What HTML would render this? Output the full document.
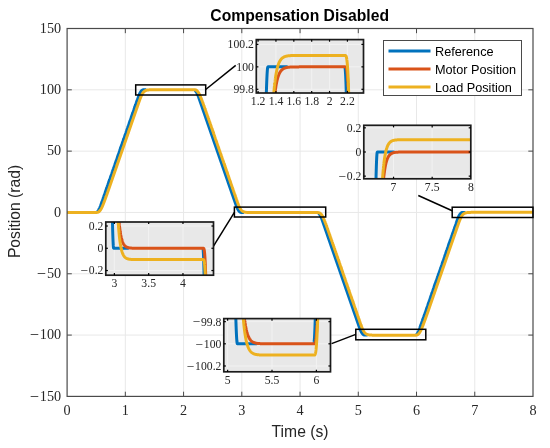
<!DOCTYPE html>
<html><head><meta charset="utf-8"><title>Compensation Disabled</title>
<style>html,body{margin:0;padding:0;background:#fff}svg{display:block}</style></head>
<body>
<svg width="550" height="448" viewBox="0 0 550 448">
<rect width="550" height="448" fill="#fff"/>
<line x1="125.34" y1="28.5" x2="125.34" y2="396.4" stroke="#e8e8e8" stroke-width="1"/>
<line x1="183.57" y1="28.5" x2="183.57" y2="396.4" stroke="#e8e8e8" stroke-width="1"/>
<line x1="241.81" y1="28.5" x2="241.81" y2="396.4" stroke="#e8e8e8" stroke-width="1"/>
<line x1="300.05" y1="28.5" x2="300.05" y2="396.4" stroke="#e8e8e8" stroke-width="1"/>
<line x1="358.29" y1="28.5" x2="358.29" y2="396.4" stroke="#e8e8e8" stroke-width="1"/>
<line x1="416.52" y1="28.5" x2="416.52" y2="396.4" stroke="#e8e8e8" stroke-width="1"/>
<line x1="474.76" y1="28.5" x2="474.76" y2="396.4" stroke="#e8e8e8" stroke-width="1"/>
<line x1="67.1" y1="335.08" x2="533.0" y2="335.08" stroke="#e8e8e8" stroke-width="1"/>
<line x1="67.1" y1="273.77" x2="533.0" y2="273.77" stroke="#e8e8e8" stroke-width="1"/>
<line x1="67.1" y1="212.45" x2="533.0" y2="212.45" stroke="#e8e8e8" stroke-width="1"/>
<line x1="67.1" y1="151.13" x2="533.0" y2="151.13" stroke="#e8e8e8" stroke-width="1"/>
<line x1="67.1" y1="89.82" x2="533.0" y2="89.82" stroke="#e8e8e8" stroke-width="1"/>
<line x1="125.34" y1="396.4" x2="125.34" y2="391.7" stroke="#4a4a4a" stroke-width="1"/>
<line x1="125.34" y1="28.5" x2="125.34" y2="33.2" stroke="#4a4a4a" stroke-width="1"/>
<line x1="183.57" y1="396.4" x2="183.57" y2="391.7" stroke="#4a4a4a" stroke-width="1"/>
<line x1="183.57" y1="28.5" x2="183.57" y2="33.2" stroke="#4a4a4a" stroke-width="1"/>
<line x1="241.81" y1="396.4" x2="241.81" y2="391.7" stroke="#4a4a4a" stroke-width="1"/>
<line x1="241.81" y1="28.5" x2="241.81" y2="33.2" stroke="#4a4a4a" stroke-width="1"/>
<line x1="300.05" y1="396.4" x2="300.05" y2="391.7" stroke="#4a4a4a" stroke-width="1"/>
<line x1="300.05" y1="28.5" x2="300.05" y2="33.2" stroke="#4a4a4a" stroke-width="1"/>
<line x1="358.29" y1="396.4" x2="358.29" y2="391.7" stroke="#4a4a4a" stroke-width="1"/>
<line x1="358.29" y1="28.5" x2="358.29" y2="33.2" stroke="#4a4a4a" stroke-width="1"/>
<line x1="416.52" y1="396.4" x2="416.52" y2="391.7" stroke="#4a4a4a" stroke-width="1"/>
<line x1="416.52" y1="28.5" x2="416.52" y2="33.2" stroke="#4a4a4a" stroke-width="1"/>
<line x1="474.76" y1="396.4" x2="474.76" y2="391.7" stroke="#4a4a4a" stroke-width="1"/>
<line x1="474.76" y1="28.5" x2="474.76" y2="33.2" stroke="#4a4a4a" stroke-width="1"/>
<line x1="67.1" y1="335.08" x2="71.8" y2="335.08" stroke="#4a4a4a" stroke-width="1"/>
<line x1="533.0" y1="335.08" x2="528.3" y2="335.08" stroke="#4a4a4a" stroke-width="1"/>
<line x1="67.1" y1="273.77" x2="71.8" y2="273.77" stroke="#4a4a4a" stroke-width="1"/>
<line x1="533.0" y1="273.77" x2="528.3" y2="273.77" stroke="#4a4a4a" stroke-width="1"/>
<line x1="67.1" y1="212.45" x2="71.8" y2="212.45" stroke="#4a4a4a" stroke-width="1"/>
<line x1="533.0" y1="212.45" x2="528.3" y2="212.45" stroke="#4a4a4a" stroke-width="1"/>
<line x1="67.1" y1="151.13" x2="71.8" y2="151.13" stroke="#4a4a4a" stroke-width="1"/>
<line x1="533.0" y1="151.13" x2="528.3" y2="151.13" stroke="#4a4a4a" stroke-width="1"/>
<line x1="67.1" y1="89.82" x2="71.8" y2="89.82" stroke="#4a4a4a" stroke-width="1"/>
<line x1="533.0" y1="89.82" x2="528.3" y2="89.82" stroke="#4a4a4a" stroke-width="1"/>
<path d="M97.03 211.91 L97.35 211.64 L97.67 211.31 L97.94 210.99 L98.17 210.68 L98.40 210.34 L98.61 210.02 L98.81 209.68 L98.99 209.36 L99.16 209.03 L99.33 208.69 L99.48 208.38 L99.63 208.07 L99.77 207.75 L99.92 207.41 L100.06 207.06 L100.21 206.70 L100.35 206.33 L100.47 206.02 L100.59 205.71 L100.70 205.39 L100.82 205.06 L100.94 204.72 L101.05 204.39 L101.17 204.05 L101.29 203.71 L101.40 203.38 L101.52 203.04 L101.63 202.71 L101.75 202.37 L101.87 202.03 L101.98 201.70 L102.10 201.36 L102.22 201.03 L102.33 200.69 L102.45 200.35 L102.57 200.02 L102.68 199.68 L102.80 199.35 L102.92 199.01 L103.03 198.67 L103.15 198.34 L103.27 198.00 L103.38 197.67 L103.50 197.33 L103.61 196.99 L103.73 196.66 L103.85 196.32 L103.96 195.99 L104.08 195.65 L104.20 195.31 L104.31 194.98 L104.43 194.64 L104.55 194.31 L104.66 193.97 L104.78 193.64 L104.90 193.30 L105.01 192.96 L105.13 192.63 L105.25 192.29 L105.36 191.96 L105.48 191.62 L105.59 191.28 L105.71 190.95 L105.83 190.61 L105.94 190.28 L106.06 189.94 L106.18 189.60 L106.29 189.27 L106.41 188.93 L106.53 188.60 L106.64 188.26 L106.76 187.92 L106.88 187.59 L106.99 187.25 L107.11 186.92 L107.23 186.58 L107.34 186.24 L107.46 185.91 L107.58 185.57 L107.69 185.24 L107.81 184.90 L107.92 184.56 L108.04 184.23 L108.16 183.89 L108.27 183.56 L108.39 183.22 L108.51 182.88 L108.62 182.55 L108.74 182.21 L108.86 181.88 L108.97 181.54 L109.09 181.20 L109.21 180.87 L109.32 180.53 L109.44 180.20 L109.56 179.86 L109.67 179.52 L109.79 179.19 L109.90 178.85 L110.02 178.52 L110.14 178.18 L110.25 177.84 L110.37 177.51 L110.49 177.17 L110.60 176.84 L110.72 176.50 L110.84 176.16 L110.95 175.83 L111.07 175.49 L111.19 175.16 L111.30 174.82 L111.42 174.48 L111.54 174.15 L111.65 173.81 L111.77 173.48 L111.88 173.14 L112.00 172.80 L112.12 172.47 L112.23 172.13 L112.35 171.80 L112.47 171.46 L112.58 171.12 L112.70 170.79 L112.82 170.45 L112.93 170.12 L113.05 169.78 L113.17 169.44 L113.28 169.11 L113.40 168.77 L113.52 168.44 L113.63 168.10 L113.75 167.76 L113.86 167.43 L113.98 167.09 L114.10 166.76 L114.21 166.42 L114.33 166.08 L114.45 165.75 L114.56 165.41 L114.68 165.08 L114.80 164.74 L114.91 164.40 L115.03 164.07 L115.15 163.73 L115.26 163.40 L115.38 163.06 L115.50 162.72 L115.61 162.39 L115.73 162.05 L115.84 161.72 L115.96 161.38 L116.08 161.04 L116.19 160.71 L116.31 160.37 L116.43 160.04 L116.54 159.70 L116.66 159.36 L116.78 159.03 L116.89 158.69 L117.01 158.36 L117.13 158.02 L117.24 157.68 L117.36 157.35 L117.48 157.01 L117.59 156.68 L117.71 156.34 L117.82 156.01 L117.94 155.67 L118.06 155.33 L118.17 155.00 L118.29 154.66 L118.41 154.33 L118.52 153.99 L118.64 153.65 L118.76 153.32 L118.87 152.98 L118.99 152.65 L119.11 152.31 L119.22 151.97 L119.34 151.64 L119.46 151.30 L119.57 150.97 L119.69 150.63 L119.80 150.29 L119.92 149.96 L120.04 149.62 L120.15 149.29 L120.27 148.95 L120.39 148.61 L120.50 148.28 L120.62 147.94 L120.74 147.61 L120.85 147.27 L120.97 146.93 L121.09 146.60 L121.20 146.26 L121.32 145.93 L121.44 145.59 L121.55 145.25 L121.67 144.92 L121.79 144.58 L121.90 144.25 L122.02 143.91 L122.13 143.57 L122.25 143.24 L122.37 142.90 L122.48 142.57 L122.60 142.23 L122.72 141.89 L122.83 141.56 L122.95 141.22 L123.07 140.89 L123.18 140.55 L123.30 140.21 L123.42 139.88 L123.53 139.54 L123.65 139.21 L123.77 138.87 L123.88 138.53 L124.00 138.20 L124.11 137.86 L124.23 137.53 L124.35 137.19 L124.46 136.85 L124.58 136.52 L124.70 136.18 L124.81 135.85 L124.93 135.51 L125.05 135.17 L125.16 134.84 L125.28 134.50 L125.40 134.17 L125.51 133.83 L125.63 133.49 L125.75 133.16 L125.86 132.82 L125.98 132.49 L126.09 132.15 L126.21 131.81 L126.33 131.48 L126.44 131.14 L126.56 130.81 L126.68 130.47 L126.79 130.13 L126.91 129.80 L127.03 129.46 L127.14 129.13 L127.26 128.79 L127.38 128.45 L127.49 128.12 L127.61 127.78 L127.73 127.45 L127.84 127.11 L127.96 126.77 L128.07 126.44 L128.19 126.10 L128.31 125.77 L128.42 125.43 L128.54 125.09 L128.66 124.76 L128.77 124.42 L128.89 124.09 L129.01 123.75 L129.12 123.41 L129.24 123.08 L129.36 122.74 L129.47 122.41 L129.59 122.07 L129.71 121.73 L129.82 121.40 L129.94 121.06 L130.05 120.73 L130.17 120.39 L130.29 120.06 L130.40 119.72 L130.52 119.38 L130.64 119.05 L130.75 118.71 L130.87 118.38 L130.99 118.04 L131.10 117.70 L131.22 117.37 L131.34 117.03 L131.45 116.70 L131.57 116.36 L131.69 116.02 L131.80 115.69 L131.92 115.35 L132.03 115.02 L132.15 114.68 L132.27 114.34 L132.38 114.01 L132.50 113.67 L132.62 113.34 L132.73 113.00 L132.85 112.66 L132.97 112.33 L133.08 111.99 L133.20 111.66 L133.32 111.32 L133.43 110.98 L133.55 110.65 L133.67 110.31 L133.78 109.98 L133.90 109.64 L134.01 109.30 L134.13 108.97 L134.25 108.63 L134.36 108.30 L134.48 107.96 L134.60 107.62 L134.71 107.29 L134.83 106.95 L134.95 106.62 L135.06 106.28 L135.18 105.94 L135.30 105.61 L135.41 105.27 L135.53 104.94 L135.65 104.60 L135.76 104.26 L135.88 103.93 L135.99 103.59 L136.11 103.26 L136.23 102.92 L136.34 102.58 L136.46 102.25 L136.58 101.91 L136.69 101.58 L136.81 101.24 L136.93 100.90 L137.04 100.57 L137.16 100.23 L137.28 99.90 L137.39 99.56 L137.51 99.22 L137.63 98.89 L137.74 98.55 L137.86 98.22 L137.98 97.88 L138.09 97.54 L138.21 97.21 L138.32 96.88 L138.44 96.56 L138.56 96.25 L138.67 95.94 L138.82 95.57 L138.97 95.21 L139.11 94.86 L139.26 94.52 L139.40 94.20 L139.55 93.88 L139.69 93.58 L139.87 93.23 L140.04 92.90 L140.22 92.59 L140.42 92.24 L140.62 91.92 L140.86 91.58 L141.09 91.27 L141.35 90.96 L141.64 90.66 L141.96 90.38 L142.28 90.15 L142.60 89.99 L142.93 89.88 L143.25 89.82 L143.57 89.82 L143.89 89.82 L144.21 89.82 L144.53 89.82 L144.85 89.82 L145.17 89.82 L145.49 89.82 L145.81 89.82 L146.13 89.82 L146.30 89.82 M194.87 90.35 L195.19 90.63 L195.51 90.96 L195.78 91.27 L196.01 91.58 L196.24 91.92 L196.45 92.24 L196.65 92.59 L196.82 92.90 L197.00 93.23 L197.17 93.58 L197.32 93.88 L197.46 94.20 L197.61 94.52 L197.76 94.86 L197.90 95.21 L198.05 95.57 L198.19 95.94 L198.31 96.25 L198.43 96.56 L198.54 96.88 L198.66 97.21 L198.77 97.54 L198.89 97.88 L199.01 98.22 L199.12 98.55 L199.24 98.89 L199.36 99.22 L199.47 99.56 L199.59 99.90 L199.71 100.23 L199.82 100.57 L199.94 100.90 L200.06 101.24 L200.17 101.58 L200.29 101.91 L200.41 102.25 L200.52 102.58 L200.64 102.92 L200.76 103.26 L200.87 103.59 L200.99 103.93 L201.10 104.26 L201.22 104.60 L201.34 104.94 L201.45 105.27 L201.57 105.61 L201.69 105.94 L201.80 106.28 L201.92 106.62 L202.04 106.95 L202.15 107.29 L202.27 107.62 L202.39 107.96 L202.50 108.30 L202.62 108.63 L202.74 108.97 L202.85 109.30 L202.97 109.64 L203.08 109.98 L203.20 110.31 L203.32 110.65 L203.43 110.98 L203.55 111.32 L203.67 111.66 L203.78 111.99 L203.90 112.33 L204.02 112.66 L204.13 113.00 L204.25 113.34 L204.37 113.67 L204.48 114.01 L204.60 114.34 L204.72 114.68 L204.83 115.02 L204.95 115.35 L205.06 115.69 L205.18 116.02 L205.30 116.36 L205.41 116.70 L205.53 117.03 L205.65 117.37 L205.76 117.70 L205.88 118.04 L206.00 118.38 L206.11 118.71 L206.23 119.05 L206.35 119.38 L206.46 119.72 L206.58 120.06 L206.70 120.39 L206.81 120.73 L206.93 121.06 L207.04 121.40 L207.16 121.73 L207.28 122.07 L207.39 122.41 L207.51 122.74 L207.63 123.08 L207.74 123.41 L207.86 123.75 L207.98 124.09 L208.09 124.42 L208.21 124.76 L208.33 125.09 L208.44 125.43 L208.56 125.77 L208.68 126.10 L208.79 126.44 L208.91 126.77 L209.02 127.11 L209.14 127.45 L209.26 127.78 L209.37 128.12 L209.49 128.45 L209.61 128.79 L209.72 129.13 L209.84 129.46 L209.96 129.80 L210.07 130.13 L210.19 130.47 L210.31 130.81 L210.42 131.14 L210.54 131.48 L210.66 131.81 L210.77 132.15 L210.89 132.49 L211.00 132.82 L211.12 133.16 L211.24 133.49 L211.35 133.83 L211.47 134.17 L211.59 134.50 L211.70 134.84 L211.82 135.17 L211.94 135.51 L212.05 135.85 L212.17 136.18 L212.29 136.52 L212.40 136.85 L212.52 137.19 L212.64 137.53 L212.75 137.86 L212.87 138.20 L212.98 138.53 L213.10 138.87 L213.22 139.21 L213.33 139.54 L213.45 139.88 L213.57 140.21 L213.68 140.55 L213.80 140.89 L213.92 141.22 L214.03 141.56 L214.15 141.89 L214.27 142.23 L214.38 142.57 L214.50 142.90 L214.62 143.24 L214.73 143.57 L214.85 143.91 L214.97 144.25 L215.08 144.58 L215.20 144.92 L215.31 145.25 L215.43 145.59 L215.55 145.93 L215.66 146.26 L215.78 146.60 L215.90 146.93 L216.01 147.27 L216.13 147.61 L216.25 147.94 L216.36 148.28 L216.48 148.61 L216.60 148.95 L216.71 149.29 L216.83 149.62 L216.95 149.96 L217.06 150.29 L217.18 150.63 L217.29 150.97 L217.41 151.30 L217.53 151.64 L217.64 151.97 L217.76 152.31 L217.88 152.65 L217.99 152.98 L218.11 153.32 L218.23 153.65 L218.34 153.99 L218.46 154.33 L218.58 154.66 L218.69 155.00 L218.81 155.33 L218.93 155.67 L219.04 156.01 L219.16 156.34 L219.27 156.68 L219.39 157.01 L219.51 157.35 L219.62 157.68 L219.74 158.02 L219.86 158.36 L219.97 158.69 L220.09 159.03 L220.21 159.36 L220.32 159.70 L220.44 160.04 L220.56 160.37 L220.67 160.71 L220.79 161.04 L220.91 161.38 L221.02 161.72 L221.14 162.05 L221.25 162.39 L221.37 162.72 L221.49 163.06 L221.60 163.40 L221.72 163.73 L221.84 164.07 L221.95 164.40 L222.07 164.74 L222.19 165.08 L222.30 165.41 L222.42 165.75 L222.54 166.08 L222.65 166.42 L222.77 166.76 L222.89 167.09 L223.00 167.43 L223.12 167.76 L223.23 168.10 L223.35 168.44 L223.47 168.77 L223.58 169.11 L223.70 169.44 L223.82 169.78 L223.93 170.12 L224.05 170.45 L224.17 170.79 L224.28 171.12 L224.40 171.46 L224.52 171.80 L224.63 172.13 L224.75 172.47 L224.87 172.80 L224.98 173.14 L225.10 173.48 L225.21 173.81 L225.33 174.15 L225.45 174.48 L225.56 174.82 L225.68 175.16 L225.80 175.49 L225.91 175.83 L226.03 176.16 L226.15 176.50 L226.26 176.84 L226.38 177.17 L226.50 177.51 L226.61 177.84 L226.73 178.18 L226.85 178.52 L226.96 178.85 L227.08 179.19 L227.19 179.52 L227.31 179.86 L227.43 180.20 L227.54 180.53 L227.66 180.87 L227.78 181.20 L227.89 181.54 L228.01 181.88 L228.13 182.21 L228.24 182.55 L228.36 182.88 L228.48 183.22 L228.59 183.56 L228.71 183.89 L228.83 184.23 L228.94 184.56 L229.06 184.90 L229.17 185.24 L229.29 185.57 L229.41 185.91 L229.52 186.24 L229.64 186.58 L229.76 186.92 L229.87 187.25 L229.99 187.59 L230.11 187.92 L230.22 188.26 L230.34 188.60 L230.46 188.93 L230.57 189.27 L230.69 189.60 L230.81 189.94 L230.92 190.28 L231.04 190.61 L231.16 190.95 L231.27 191.28 L231.39 191.62 L231.50 191.96 L231.62 192.29 L231.74 192.63 L231.85 192.96 L231.97 193.30 L232.09 193.64 L232.20 193.97 L232.32 194.31 L232.44 194.64 L232.55 194.98 L232.67 195.31 L232.79 195.65 L232.90 195.99 L233.02 196.32 L233.14 196.66 L233.25 196.99 L233.37 197.33 L233.48 197.67 L233.60 198.00 L233.72 198.34 L233.83 198.67 L233.95 199.01 L234.07 199.35 L234.18 199.68 L234.30 200.02 L234.42 200.35 L234.53 200.69 L234.65 201.03 L234.77 201.36 L234.88 201.70 L235.00 202.03 L235.12 202.37 L235.23 202.71 L235.35 203.04 L235.46 203.38 L235.58 203.71 L235.70 204.05 L235.81 204.39 L235.93 204.72 L236.05 205.06 L236.16 205.39 L236.28 205.71 L236.40 206.02 L236.51 206.33 L236.66 206.70 L236.80 207.06 L236.95 207.41 L237.10 207.75 L237.24 208.07 L237.39 208.38 L237.53 208.69 L237.71 209.03 L237.88 209.36 L238.06 209.68 L238.26 210.02 L238.46 210.34 L238.70 210.68 L238.93 210.99 L239.19 211.31 L239.48 211.61 L239.80 211.89 L240.12 212.11 L240.44 212.28 L240.76 212.39 L241.08 212.44 L241.40 212.45 L241.73 212.45 L242.05 212.45 L242.37 212.45 L242.69 212.45 L243.01 212.45 L243.33 212.45 L243.65 212.45 L243.97 212.45 L244.14 212.45 M318.51 213.13 L318.83 213.44 L319.12 213.76 L319.38 214.10 L319.62 214.42 L319.82 214.74 L320.03 215.07 L320.20 215.38 L320.37 215.70 L320.55 216.04 L320.72 216.39 L320.87 216.70 L321.02 217.02 L321.16 217.36 L321.31 217.70 L321.45 218.06 L321.60 218.42 L321.71 218.73 L321.83 219.04 L321.95 219.35 L322.06 219.68 L322.18 220.01 L322.30 220.35 L322.41 220.68 L322.53 221.02 L322.65 221.35 L322.76 221.69 L322.88 222.03 L323.00 222.36 L323.11 222.70 L323.23 223.03 L323.35 223.37 L323.46 223.71 L323.58 224.04 L323.69 224.38 L323.81 224.71 L323.93 225.05 L324.04 225.39 L324.16 225.72 L324.28 226.06 L324.39 226.39 L324.51 226.73 L324.63 227.07 L324.74 227.40 L324.86 227.74 L324.98 228.07 L325.09 228.41 L325.21 228.75 L325.33 229.08 L325.44 229.42 L325.56 229.75 L325.67 230.09 L325.79 230.43 L325.91 230.76 L326.02 231.10 L326.14 231.43 L326.26 231.77 L326.37 232.10 L326.49 232.44 L326.61 232.78 L326.72 233.11 L326.84 233.45 L326.96 233.78 L327.07 234.12 L327.19 234.46 L327.31 234.79 L327.42 235.13 L327.54 235.46 L327.65 235.80 L327.77 236.14 L327.89 236.47 L328.00 236.81 L328.12 237.14 L328.24 237.48 L328.35 237.82 L328.47 238.15 L328.59 238.49 L328.70 238.82 L328.82 239.16 L328.94 239.50 L329.05 239.83 L329.17 240.17 L329.29 240.50 L329.40 240.84 L329.52 241.18 L329.63 241.51 L329.75 241.85 L329.87 242.18 L329.98 242.52 L330.10 242.86 L330.22 243.19 L330.33 243.53 L330.45 243.86 L330.57 244.20 L330.68 244.54 L330.80 244.87 L330.92 245.21 L331.03 245.54 L331.15 245.88 L331.27 246.22 L331.38 246.55 L331.50 246.89 L331.61 247.22 L331.73 247.56 L331.85 247.90 L331.96 248.23 L332.08 248.57 L332.20 248.90 L332.31 249.24 L332.43 249.58 L332.55 249.91 L332.66 250.25 L332.78 250.58 L332.90 250.92 L333.01 251.26 L333.13 251.59 L333.25 251.93 L333.36 252.26 L333.48 252.60 L333.59 252.94 L333.71 253.27 L333.83 253.61 L333.94 253.94 L334.06 254.28 L334.18 254.62 L334.29 254.95 L334.41 255.29 L334.53 255.62 L334.64 255.96 L334.76 256.30 L334.88 256.63 L334.99 256.97 L335.11 257.30 L335.23 257.64 L335.34 257.98 L335.46 258.31 L335.57 258.65 L335.69 258.98 L335.81 259.32 L335.92 259.66 L336.04 259.99 L336.16 260.33 L336.27 260.66 L336.39 261.00 L336.51 261.34 L336.62 261.67 L336.74 262.01 L336.86 262.34 L336.97 262.68 L337.09 263.02 L337.21 263.35 L337.32 263.69 L337.44 264.02 L337.55 264.36 L337.67 264.70 L337.79 265.03 L337.90 265.37 L338.02 265.70 L338.14 266.04 L338.25 266.38 L338.37 266.71 L338.49 267.05 L338.60 267.38 L338.72 267.72 L338.84 268.05 L338.95 268.39 L339.07 268.73 L339.19 269.06 L339.30 269.40 L339.42 269.73 L339.54 270.07 L339.65 270.41 L339.77 270.74 L339.88 271.08 L340.00 271.41 L340.12 271.75 L340.23 272.09 L340.35 272.42 L340.47 272.76 L340.58 273.09 L340.70 273.43 L340.82 273.77 L340.93 274.10 L341.05 274.44 L341.17 274.77 L341.28 275.11 L341.40 275.45 L341.52 275.78 L341.63 276.12 L341.75 276.45 L341.86 276.79 L341.98 277.13 L342.10 277.46 L342.21 277.80 L342.33 278.13 L342.45 278.47 L342.56 278.81 L342.68 279.14 L342.80 279.48 L342.91 279.81 L343.03 280.15 L343.15 280.49 L343.26 280.82 L343.38 281.16 L343.50 281.49 L343.61 281.83 L343.73 282.17 L343.84 282.50 L343.96 282.84 L344.08 283.17 L344.19 283.51 L344.31 283.85 L344.43 284.18 L344.54 284.52 L344.66 284.85 L344.78 285.19 L344.89 285.53 L345.01 285.86 L345.13 286.20 L345.24 286.53 L345.36 286.87 L345.48 287.21 L345.59 287.54 L345.71 287.88 L345.82 288.21 L345.94 288.55 L346.06 288.89 L346.17 289.22 L346.29 289.56 L346.41 289.89 L346.52 290.23 L346.64 290.57 L346.76 290.90 L346.87 291.24 L346.99 291.57 L347.11 291.91 L347.22 292.25 L347.34 292.58 L347.46 292.92 L347.57 293.25 L347.69 293.59 L347.80 293.93 L347.92 294.26 L348.04 294.60 L348.15 294.93 L348.27 295.27 L348.39 295.61 L348.50 295.94 L348.62 296.28 L348.74 296.61 L348.85 296.95 L348.97 297.29 L349.09 297.62 L349.20 297.96 L349.32 298.29 L349.44 298.63 L349.55 298.97 L349.67 299.30 L349.78 299.64 L349.90 299.97 L350.02 300.31 L350.13 300.65 L350.25 300.98 L350.37 301.32 L350.48 301.65 L350.60 301.99 L350.72 302.33 L350.83 302.66 L350.95 303.00 L351.07 303.33 L351.18 303.67 L351.30 304.01 L351.42 304.34 L351.53 304.68 L351.65 305.01 L351.76 305.35 L351.88 305.68 L352.00 306.02 L352.11 306.36 L352.23 306.69 L352.35 307.03 L352.46 307.36 L352.58 307.70 L352.70 308.04 L352.81 308.37 L352.93 308.71 L353.05 309.04 L353.16 309.38 L353.28 309.72 L353.40 310.05 L353.51 310.39 L353.63 310.72 L353.74 311.06 L353.86 311.40 L353.98 311.73 L354.09 312.07 L354.21 312.40 L354.33 312.74 L354.44 313.08 L354.56 313.41 L354.68 313.75 L354.79 314.08 L354.91 314.42 L355.03 314.76 L355.14 315.09 L355.26 315.43 L355.38 315.76 L355.49 316.10 L355.61 316.44 L355.73 316.77 L355.84 317.11 L355.96 317.44 L356.07 317.78 L356.19 318.12 L356.31 318.45 L356.42 318.79 L356.54 319.12 L356.66 319.46 L356.77 319.80 L356.89 320.13 L357.01 320.47 L357.12 320.80 L357.24 321.14 L357.36 321.48 L357.47 321.81 L357.59 322.15 L357.71 322.48 L357.82 322.82 L357.94 323.16 L358.05 323.49 L358.17 323.83 L358.29 324.16 L358.40 324.50 L358.52 324.84 L358.64 325.17 L358.75 325.51 L358.87 325.84 L358.99 326.18 L359.10 326.52 L359.22 326.85 L359.34 327.19 L359.45 327.52 L359.57 327.86 L359.69 328.18 L359.80 328.50 L359.92 328.81 L360.03 329.11 L360.18 329.48 L360.33 329.83 L360.47 330.18 L360.62 330.51 L360.76 330.83 L360.91 331.14 L361.08 331.50 L361.26 331.83 L361.43 332.16 L361.61 332.46 L361.81 332.80 L362.01 333.11 L362.25 333.44 L362.51 333.77 L362.80 334.10 L363.12 334.40 L363.44 334.65 L363.76 334.84 L364.08 334.98 L364.40 335.06 L364.72 335.08 L365.04 335.08 L365.36 335.08 L365.68 335.08 L366.00 335.08 L366.32 335.08 L366.64 335.08 L366.96 335.08 L367.29 335.08 L367.61 335.08 L367.61 335.08 M416.18 334.55 L416.50 334.27 L416.82 333.94 L417.08 333.63 L417.31 333.32 L417.54 332.98 L417.75 332.66 L417.95 332.31 L418.13 332.00 L418.30 331.67 L418.48 331.32 L418.62 331.02 L418.77 330.70 L418.91 330.38 L419.06 330.04 L419.20 329.69 L419.35 329.33 L419.50 328.96 L419.61 328.65 L419.73 328.34 L419.84 328.02 L419.96 327.69 L420.08 327.36 L420.19 327.02 L420.31 326.68 L420.43 326.35 L420.54 326.01 L420.66 325.68 L420.78 325.34 L420.89 325.00 L421.01 324.67 L421.13 324.33 L421.24 324.00 L421.36 323.66 L421.48 323.32 L421.59 322.99 L421.71 322.65 L421.82 322.32 L421.94 321.98 L422.06 321.64 L422.17 321.31 L422.29 320.97 L422.41 320.64 L422.52 320.30 L422.64 319.96 L422.76 319.63 L422.87 319.29 L422.99 318.96 L423.11 318.62 L423.22 318.28 L423.34 317.95 L423.46 317.61 L423.57 317.28 L423.69 316.94 L423.80 316.60 L423.92 316.27 L424.04 315.93 L424.15 315.60 L424.27 315.26 L424.39 314.92 L424.50 314.59 L424.62 314.25 L424.74 313.92 L424.85 313.58 L424.97 313.24 L425.09 312.91 L425.20 312.57 L425.32 312.24 L425.44 311.90 L425.55 311.56 L425.67 311.23 L425.78 310.89 L425.90 310.56 L426.02 310.22 L426.13 309.88 L426.25 309.55 L426.37 309.21 L426.48 308.88 L426.60 308.54 L426.72 308.20 L426.83 307.87 L426.95 307.53 L427.07 307.20 L427.18 306.86 L427.30 306.52 L427.42 306.19 L427.53 305.85 L427.65 305.52 L427.76 305.18 L427.88 304.84 L428.00 304.51 L428.11 304.17 L428.23 303.84 L428.35 303.50 L428.46 303.17 L428.58 302.83 L428.70 302.49 L428.81 302.16 L428.93 301.82 L429.05 301.49 L429.16 301.15 L429.28 300.81 L429.40 300.48 L429.51 300.14 L429.63 299.81 L429.74 299.47 L429.86 299.13 L429.98 298.80 L430.09 298.46 L430.21 298.13 L430.33 297.79 L430.44 297.45 L430.56 297.12 L430.68 296.78 L430.79 296.45 L430.91 296.11 L431.03 295.77 L431.14 295.44 L431.26 295.10 L431.38 294.77 L431.49 294.43 L431.61 294.09 L431.72 293.76 L431.84 293.42 L431.96 293.09 L432.07 292.75 L432.19 292.41 L432.31 292.08 L432.42 291.74 L432.54 291.41 L432.66 291.07 L432.77 290.73 L432.89 290.40 L433.01 290.06 L433.12 289.73 L433.24 289.39 L433.36 289.05 L433.47 288.72 L433.59 288.38 L433.71 288.05 L433.82 287.71 L433.94 287.37 L434.05 287.04 L434.17 286.70 L434.29 286.37 L434.40 286.03 L434.52 285.69 L434.64 285.36 L434.75 285.02 L434.87 284.69 L434.99 284.35 L435.10 284.01 L435.22 283.68 L435.34 283.34 L435.45 283.01 L435.57 282.67 L435.69 282.33 L435.80 282.00 L435.92 281.66 L436.03 281.33 L436.15 280.99 L436.27 280.65 L436.38 280.32 L436.50 279.98 L436.62 279.65 L436.73 279.31 L436.85 278.97 L436.97 278.64 L437.08 278.30 L437.20 277.97 L437.32 277.63 L437.43 277.29 L437.55 276.96 L437.67 276.62 L437.78 276.29 L437.90 275.95 L438.01 275.61 L438.13 275.28 L438.25 274.94 L438.36 274.61 L438.48 274.27 L438.60 273.93 L438.71 273.60 L438.83 273.26 L438.95 272.93 L439.06 272.59 L439.18 272.25 L439.30 271.92 L439.41 271.58 L439.53 271.25 L439.65 270.91 L439.76 270.57 L439.88 270.24 L439.99 269.90 L440.11 269.57 L440.23 269.23 L440.34 268.89 L440.46 268.56 L440.58 268.22 L440.69 267.89 L440.81 267.55 L440.93 267.22 L441.04 266.88 L441.16 266.54 L441.28 266.21 L441.39 265.87 L441.51 265.54 L441.63 265.20 L441.74 264.86 L441.86 264.53 L441.97 264.19 L442.09 263.86 L442.21 263.52 L442.32 263.18 L442.44 262.85 L442.56 262.51 L442.67 262.18 L442.79 261.84 L442.91 261.50 L443.02 261.17 L443.14 260.83 L443.26 260.50 L443.37 260.16 L443.49 259.82 L443.61 259.49 L443.72 259.15 L443.84 258.82 L443.95 258.48 L444.07 258.14 L444.19 257.81 L444.30 257.47 L444.42 257.14 L444.54 256.80 L444.65 256.46 L444.77 256.13 L444.89 255.79 L445.00 255.46 L445.12 255.12 L445.24 254.78 L445.35 254.45 L445.47 254.11 L445.59 253.78 L445.70 253.44 L445.82 253.10 L445.93 252.77 L446.05 252.43 L446.17 252.10 L446.28 251.76 L446.40 251.42 L446.52 251.09 L446.63 250.75 L446.75 250.42 L446.87 250.08 L446.98 249.74 L447.10 249.41 L447.22 249.07 L447.33 248.74 L447.45 248.40 L447.57 248.06 L447.68 247.73 L447.80 247.39 L447.92 247.06 L448.03 246.72 L448.15 246.38 L448.26 246.05 L448.38 245.71 L448.50 245.38 L448.61 245.04 L448.73 244.70 L448.85 244.37 L448.96 244.03 L449.08 243.70 L449.20 243.36 L449.31 243.02 L449.43 242.69 L449.55 242.35 L449.66 242.02 L449.78 241.68 L449.90 241.34 L450.01 241.01 L450.13 240.67 L450.24 240.34 L450.36 240.00 L450.48 239.66 L450.59 239.33 L450.71 238.99 L450.83 238.66 L450.94 238.32 L451.06 237.98 L451.18 237.65 L451.29 237.31 L451.41 236.98 L451.53 236.64 L451.64 236.30 L451.76 235.97 L451.88 235.63 L451.99 235.30 L452.11 234.96 L452.22 234.62 L452.34 234.29 L452.46 233.95 L452.57 233.62 L452.69 233.28 L452.81 232.94 L452.92 232.61 L453.04 232.27 L453.16 231.94 L453.27 231.60 L453.39 231.26 L453.51 230.93 L453.62 230.59 L453.74 230.26 L453.86 229.92 L453.97 229.59 L454.09 229.25 L454.20 228.91 L454.32 228.58 L454.44 228.24 L454.55 227.91 L454.67 227.57 L454.79 227.23 L454.90 226.90 L455.02 226.56 L455.14 226.23 L455.25 225.89 L455.37 225.55 L455.49 225.22 L455.60 224.88 L455.72 224.55 L455.84 224.21 L455.95 223.87 L456.07 223.54 L456.18 223.20 L456.30 222.87 L456.42 222.53 L456.53 222.19 L456.65 221.86 L456.77 221.52 L456.88 221.19 L457.00 220.85 L457.12 220.51 L457.23 220.18 L457.35 219.84 L457.47 219.51 L457.58 219.19 L457.70 218.88 L457.82 218.57 L457.96 218.20 L458.11 217.84 L458.25 217.49 L458.40 217.15 L458.54 216.83 L458.69 216.52 L458.83 216.21 L459.01 215.87 L459.18 215.54 L459.36 215.22 L459.56 214.88 L459.77 214.56 L460.00 214.22 L460.23 213.91 L460.49 213.59 L460.79 213.29 L461.11 213.01 L461.43 212.79 L461.75 212.62 L462.07 212.51 L462.39 212.46 L462.71 212.45 L463.03 212.45 L463.35 212.45 L463.67 212.45 L463.99 212.45 L464.31 212.45 L464.63 212.45 L464.95 212.45 L465.27 212.45 L465.44 212.45" fill="none" stroke="#0072BD" stroke-width="3.0" stroke-linejoin="round"/>
<path d="M67.10 212.45 L67.42 212.45 L67.74 212.45 L68.06 212.45 L68.38 212.45 L68.70 212.45 L69.02 212.45 L69.34 212.45 L69.66 212.45 L69.98 212.45 L70.30 212.45 L70.62 212.45 L70.94 212.45 L71.26 212.45 L71.58 212.45 L71.90 212.45 L72.22 212.45 L72.55 212.45 L72.87 212.45 L73.19 212.45 L73.51 212.45 L73.83 212.45 L74.15 212.45 L74.47 212.45 L74.79 212.45 L75.11 212.45 L75.43 212.45 L75.75 212.45 L76.07 212.45 L76.39 212.45 L76.71 212.45 L77.03 212.45 L77.35 212.45 L77.67 212.45 L77.99 212.45 L78.31 212.45 L78.63 212.45 L78.95 212.45 L79.27 212.45 L79.59 212.45 L79.91 212.45 L80.23 212.45 L80.55 212.45 L80.87 212.45 L81.19 212.45 L81.51 212.45 L81.83 212.45 L82.15 212.45 L82.47 212.45 L82.80 212.45 L83.12 212.45 L83.44 212.45 L83.76 212.45 L84.08 212.45 L84.40 212.45 L84.72 212.45 L85.04 212.45 L85.36 212.45 L85.68 212.45 L86.00 212.45 L86.32 212.45 L86.64 212.45 L86.96 212.45 L87.28 212.45 L87.60 212.45 L87.92 212.45 L88.24 212.45 L88.56 212.45 L88.88 212.45 L89.20 212.45 L89.52 212.45 L89.84 212.45 L90.16 212.45 L90.48 212.45 L90.80 212.45 L91.12 212.45 L91.44 212.45 L91.76 212.45 L92.08 212.45 L92.40 212.45 L92.72 212.45 L93.04 212.45 L93.37 212.45 L93.69 212.45 L94.01 212.45 L94.33 212.45 L94.65 212.45 L94.97 212.45 L95.29 212.45 L95.61 212.45 L95.93 212.45 L96.25 212.45 L96.57 212.44 L96.89 212.42 L97.21 212.38 L97.53 212.32 L97.85 212.22 L98.17 212.09 L98.49 211.93 L98.81 211.72 L99.13 211.47 L99.45 211.18 L99.74 210.87 L100.00 210.56 L100.24 210.25 L100.47 209.92 L100.67 209.61 L100.88 209.27 L101.05 208.97 L101.23 208.65 L101.40 208.32 L101.58 207.98 L101.75 207.62 L101.90 207.31 L102.04 206.99 L102.19 206.67 L102.33 206.34 L102.48 206.01 L102.62 205.67 L102.77 205.32 L102.92 204.97 L103.06 204.62 L103.21 204.26 L103.35 203.89 L103.50 203.53 L103.64 203.15 L103.79 202.78 L103.91 202.48 L104.02 202.18 L104.14 201.87 L104.26 201.56 L104.37 201.26 L104.49 200.95 L104.60 200.64 L104.72 200.32 L104.84 200.01 L104.95 199.69 L105.07 199.38 L105.19 199.06 L105.30 198.74 L105.42 198.42 L105.54 198.10 L105.65 197.78 L105.77 197.46 L105.89 197.14 L106.00 196.82 L106.12 196.49 L106.24 196.17 L106.35 195.84 L106.47 195.52 L106.59 195.19 L106.70 194.86 L106.82 194.54 L106.93 194.21 L107.05 193.88 L107.17 193.55 L107.28 193.22 L107.40 192.89 L107.52 192.56 L107.63 192.23 L107.75 191.90 L107.87 191.57 L107.98 191.24 L108.10 190.91 L108.22 190.58 L108.33 190.25 L108.45 189.91 L108.57 189.58 L108.68 189.25 L108.80 188.92 L108.91 188.58 L109.03 188.25 L109.15 187.92 L109.26 187.58 L109.38 187.25 L109.50 186.92 L109.61 186.58 L109.73 186.25 L109.85 185.92 L109.96 185.58 L110.08 185.25 L110.20 184.91 L110.31 184.58 L110.43 184.24 L110.55 183.91 L110.66 183.57 L110.78 183.24 L110.89 182.91 L111.01 182.57 L111.13 182.24 L111.24 181.90 L111.36 181.57 L111.48 181.23 L111.59 180.90 L111.71 180.56 L111.83 180.23 L111.94 179.89 L112.06 179.55 L112.18 179.22 L112.29 178.88 L112.41 178.55 L112.53 178.21 L112.64 177.88 L112.76 177.54 L112.87 177.21 L112.99 176.87 L113.11 176.54 L113.22 176.20 L113.34 175.86 L113.46 175.53 L113.57 175.19 L113.69 174.86 L113.81 174.52 L113.92 174.19 L114.04 173.85 L114.16 173.51 L114.27 173.18 L114.39 172.84 L114.51 172.51 L114.62 172.17 L114.74 171.84 L114.85 171.50 L114.97 171.16 L115.09 170.83 L115.20 170.49 L115.32 170.16 L115.44 169.82 L115.55 169.48 L115.67 169.15 L115.79 168.81 L115.90 168.48 L116.02 168.14 L116.14 167.81 L116.25 167.47 L116.37 167.13 L116.49 166.80 L116.60 166.46 L116.72 166.13 L116.83 165.79 L116.95 165.45 L117.07 165.12 L117.18 164.78 L117.30 164.45 L117.42 164.11 L117.53 163.77 L117.65 163.44 L117.77 163.10 L117.88 162.77 L118.00 162.43 L118.12 162.09 L118.23 161.76 L118.35 161.42 L118.47 161.09 L118.58 160.75 L118.70 160.42 L118.81 160.08 L118.93 159.74 L119.05 159.41 L119.16 159.07 L119.28 158.74 L119.40 158.40 L119.51 158.06 L119.63 157.73 L119.75 157.39 L119.86 157.06 L119.98 156.72 L120.10 156.38 L120.21 156.05 L120.33 155.71 L120.45 155.38 L120.56 155.04 L120.68 154.70 L120.79 154.37 L120.91 154.03 L121.03 153.70 L121.14 153.36 L121.26 153.02 L121.38 152.69 L121.49 152.35 L121.61 152.02 L121.73 151.68 L121.84 151.34 L121.96 151.01 L122.08 150.67 L122.19 150.34 L122.31 150.00 L122.43 149.66 L122.54 149.33 L122.66 148.99 L122.78 148.66 L122.89 148.32 L123.01 147.98 L123.12 147.65 L123.24 147.31 L123.36 146.98 L123.47 146.64 L123.59 146.30 L123.71 145.97 L123.82 145.63 L123.94 145.30 L124.06 144.96 L124.17 144.62 L124.29 144.29 L124.41 143.95 L124.52 143.62 L124.64 143.28 L124.76 142.94 L124.87 142.61 L124.99 142.27 L125.10 141.94 L125.22 141.60 L125.34 141.26 L125.45 140.93 L125.57 140.59 L125.69 140.26 L125.80 139.92 L125.92 139.58 L126.04 139.25 L126.15 138.91 L126.27 138.58 L126.39 138.24 L126.50 137.90 L126.62 137.57 L126.74 137.23 L126.85 136.90 L126.97 136.56 L127.08 136.23 L127.20 135.89 L127.32 135.55 L127.43 135.22 L127.55 134.88 L127.67 134.55 L127.78 134.21 L127.90 133.87 L128.02 133.54 L128.13 133.20 L128.25 132.87 L128.37 132.53 L128.48 132.19 L128.60 131.86 L128.72 131.52 L128.83 131.19 L128.95 130.85 L129.06 130.51 L129.18 130.18 L129.30 129.84 L129.41 129.51 L129.53 129.17 L129.65 128.83 L129.76 128.50 L129.88 128.16 L130.00 127.83 L130.11 127.49 L130.23 127.15 L130.35 126.82 L130.46 126.48 L130.58 126.15 L130.70 125.81 L130.81 125.47 L130.93 125.14 L131.04 124.80 L131.16 124.47 L131.28 124.13 L131.39 123.79 L131.51 123.46 L131.63 123.12 L131.74 122.79 L131.86 122.45 L131.98 122.11 L132.09 121.78 L132.21 121.44 L132.33 121.11 L132.44 120.77 L132.56 120.43 L132.68 120.10 L132.79 119.76 L132.91 119.43 L133.02 119.09 L133.14 118.75 L133.26 118.42 L133.37 118.08 L133.49 117.75 L133.61 117.41 L133.72 117.07 L133.84 116.74 L133.96 116.40 L134.07 116.07 L134.19 115.73 L134.31 115.39 L134.42 115.06 L134.54 114.72 L134.66 114.39 L134.77 114.05 L134.89 113.71 L135.00 113.38 L135.12 113.04 L135.24 112.71 L135.35 112.37 L135.47 112.03 L135.59 111.70 L135.70 111.36 L135.82 111.03 L135.94 110.69 L136.05 110.35 L136.17 110.02 L136.29 109.68 L136.40 109.35 L136.52 109.01 L136.64 108.67 L136.75 108.34 L136.87 108.00 L136.98 107.67 L137.10 107.33 L137.22 106.99 L137.33 106.66 L137.45 106.32 L137.57 105.99 L137.68 105.65 L137.80 105.31 L137.92 104.98 L138.03 104.64 L138.15 104.31 L138.27 103.97 L138.38 103.63 L138.50 103.30 L138.62 102.96 L138.73 102.63 L138.85 102.29 L138.97 101.96 L139.08 101.63 L139.20 101.30 L139.31 100.97 L139.43 100.64 L139.55 100.32 L139.66 100.00 L139.78 99.68 L139.90 99.37 L140.01 99.06 L140.13 98.75 L140.25 98.45 L140.39 98.08 L140.54 97.71 L140.68 97.35 L140.83 97.00 L140.97 96.66 L141.12 96.33 L141.27 96.00 L141.41 95.68 L141.56 95.37 L141.73 95.01 L141.91 94.67 L142.08 94.34 L142.26 94.02 L142.43 93.71 L142.63 93.38 L142.84 93.06 L143.07 92.72 L143.30 92.41 L143.57 92.09 L143.86 91.78 L144.18 91.48 L144.50 91.23 L144.82 91.01 L145.14 90.82 L145.46 90.66 L145.78 90.52 L146.10 90.40 L146.42 90.30 L146.74 90.21 L147.06 90.14 L147.38 90.08 L147.70 90.02 L148.02 89.97 L148.34 89.93 L148.66 89.90 L148.98 89.87 L149.30 89.84 L149.62 89.82 L149.94 89.80 L150.26 89.79 L150.58 89.77 L150.90 89.76 L151.22 89.75 L151.54 89.74 L151.86 89.74 L152.18 89.73 L152.51 89.72 L152.83 89.72 L153.15 89.72 L153.47 89.71 L153.79 89.71 L154.11 89.71 L154.43 89.70 L154.75 89.70 L155.07 89.70 L155.39 89.70 L155.71 89.70 L156.03 89.70 L156.35 89.70 L156.67 89.70 L156.99 89.70 L157.31 89.69 L157.63 89.69 L157.95 89.69 L158.27 89.69 L158.59 89.69 L158.91 89.69 L159.23 89.69 L159.55 89.69 L159.87 89.69 L160.19 89.69 L160.51 89.69 L160.83 89.69 L161.15 89.69 L161.47 89.69 L161.79 89.69 L162.11 89.69 L162.43 89.69 L162.76 89.69 L163.08 89.69 L163.40 89.69 L163.72 89.69 L164.04 89.69 L164.36 89.69 L164.68 89.69 L165.00 89.69 L165.32 89.69 L165.64 89.69 L165.96 89.69 L166.28 89.69 L166.60 89.69 L166.92 89.69 L167.24 89.69 L167.56 89.69 L167.88 89.69 L168.20 89.69 L168.52 89.69 L168.84 89.69 L169.16 89.69 L169.48 89.69 L169.80 89.69 L170.12 89.69 L170.44 89.69 L170.76 89.69 L171.08 89.69 L171.40 89.69 L171.72 89.69 L172.04 89.69 L172.36 89.69 L172.68 89.69 L173.00 89.69 L173.33 89.69 L173.65 89.69 L173.97 89.69 L174.29 89.69 L174.61 89.69 L174.93 89.69 L175.25 89.69 L175.57 89.69 L175.89 89.69 L176.21 89.69 L176.53 89.69 L176.85 89.69 L177.17 89.69 L177.49 89.69 L177.81 89.69 L178.13 89.69 L178.45 89.69 L178.77 89.69 L179.09 89.69 L179.41 89.69 L179.73 89.69 L180.05 89.69 L180.37 89.69 L180.69 89.69 L181.01 89.69 L181.33 89.69 L181.65 89.69 L181.97 89.69 L182.29 89.69 L182.61 89.69 L182.93 89.69 L183.25 89.69 L183.57 89.69 L183.90 89.69 L184.22 89.69 L184.54 89.69 L184.86 89.69 L185.18 89.69 L185.50 89.69 L185.82 89.69 L186.14 89.69 L186.46 89.69 L186.78 89.69 L187.10 89.69 L187.42 89.69 L187.74 89.69 L188.06 89.69 L188.38 89.69 L188.70 89.69 L189.02 89.69 L189.34 89.69 L189.66 89.69 L189.98 89.69 L190.30 89.69 L190.62 89.69 L190.94 89.69 L191.26 89.69 L191.58 89.69 L191.90 89.69 L192.22 89.69 L192.54 89.69 L192.86 89.69 L193.18 89.69 L193.50 89.69 L193.82 89.69 L194.15 89.69 L194.47 89.70 L194.79 89.73 L195.11 89.78 L195.43 89.86 L195.75 89.97 L196.07 90.12 L196.39 90.31 L196.71 90.55 L197.03 90.84 L197.35 91.17 L197.61 91.47 L197.87 91.79 L198.11 92.11 L198.34 92.45 L198.54 92.76 L198.75 93.09 L198.92 93.39 L199.10 93.71 L199.27 94.04 L199.44 94.38 L199.62 94.74 L199.77 95.05 L199.91 95.36 L200.06 95.68 L200.20 96.01 L200.35 96.34 L200.49 96.68 L200.64 97.03 L200.78 97.38 L200.93 97.73 L201.08 98.09 L201.22 98.45 L201.37 98.82 L201.51 99.19 L201.66 99.57 L201.77 99.87 L201.89 100.17 L202.01 100.47 L202.12 100.78 L202.24 101.09 L202.36 101.40 L202.47 101.71 L202.59 102.02 L202.71 102.34 L202.82 102.65 L202.94 102.97 L203.06 103.29 L203.17 103.60 L203.29 103.92 L203.40 104.24 L203.52 104.56 L203.64 104.89 L203.75 105.21 L203.87 105.53 L203.99 105.86 L204.10 106.18 L204.22 106.51 L204.34 106.83 L204.45 107.16 L204.57 107.49 L204.69 107.81 L204.80 108.14 L204.92 108.47 L205.04 108.80 L205.15 109.13 L205.27 109.46 L205.38 109.79 L205.50 110.12 L205.62 110.45 L205.73 110.78 L205.85 111.11 L205.97 111.44 L206.08 111.77 L206.20 112.10 L206.32 112.44 L206.43 112.77 L206.55 113.10 L206.67 113.43 L206.78 113.77 L206.90 114.10 L207.02 114.43 L207.13 114.77 L207.25 115.10 L207.37 115.43 L207.48 115.77 L207.60 116.10 L207.71 116.43 L207.83 116.77 L207.95 117.10 L208.06 117.44 L208.18 117.77 L208.30 118.11 L208.41 118.44 L208.53 118.78 L208.65 119.11 L208.76 119.45 L208.88 119.78 L209.00 120.11 L209.11 120.45 L209.23 120.78 L209.35 121.12 L209.46 121.46 L209.58 121.79 L209.69 122.13 L209.81 122.46 L209.93 122.80 L210.04 123.13 L210.16 123.47 L210.28 123.80 L210.39 124.14 L210.51 124.47 L210.63 124.81 L210.74 125.14 L210.86 125.48 L210.98 125.82 L211.09 126.15 L211.21 126.49 L211.33 126.82 L211.44 127.16 L211.56 127.49 L211.67 127.83 L211.79 128.16 L211.91 128.50 L212.02 128.84 L212.14 129.17 L212.26 129.51 L212.37 129.84 L212.49 130.18 L212.61 130.51 L212.72 130.85 L212.84 131.19 L212.96 131.52 L213.07 131.86 L213.19 132.19 L213.31 132.53 L213.42 132.87 L213.54 133.20 L213.65 133.54 L213.77 133.87 L213.89 134.21 L214.00 134.55 L214.12 134.88 L214.24 135.22 L214.35 135.55 L214.47 135.89 L214.59 136.22 L214.70 136.56 L214.82 136.90 L214.94 137.23 L215.05 137.57 L215.17 137.90 L215.29 138.24 L215.40 138.58 L215.52 138.91 L215.63 139.25 L215.75 139.58 L215.87 139.92 L215.98 140.26 L216.10 140.59 L216.22 140.93 L216.33 141.26 L216.45 141.60 L216.57 141.94 L216.68 142.27 L216.80 142.61 L216.92 142.94 L217.03 143.28 L217.15 143.62 L217.27 143.95 L217.38 144.29 L217.50 144.62 L217.61 144.96 L217.73 145.30 L217.85 145.63 L217.96 145.97 L218.08 146.30 L218.20 146.64 L218.31 146.97 L218.43 147.31 L218.55 147.65 L218.66 147.98 L218.78 148.32 L218.90 148.65 L219.01 148.99 L219.13 149.33 L219.25 149.66 L219.36 150.00 L219.48 150.33 L219.59 150.67 L219.71 151.01 L219.83 151.34 L219.94 151.68 L220.06 152.01 L220.18 152.35 L220.29 152.69 L220.41 153.02 L220.53 153.36 L220.64 153.69 L220.76 154.03 L220.88 154.37 L220.99 154.70 L221.11 155.04 L221.23 155.37 L221.34 155.71 L221.46 156.05 L221.57 156.38 L221.69 156.72 L221.81 157.05 L221.92 157.39 L222.04 157.73 L222.16 158.06 L222.27 158.40 L222.39 158.73 L222.51 159.07 L222.62 159.41 L222.74 159.74 L222.86 160.08 L222.97 160.41 L223.09 160.75 L223.21 161.09 L223.32 161.42 L223.44 161.76 L223.56 162.09 L223.67 162.43 L223.79 162.77 L223.90 163.10 L224.02 163.44 L224.14 163.77 L224.25 164.11 L224.37 164.45 L224.49 164.78 L224.60 165.12 L224.72 165.45 L224.84 165.79 L224.95 166.13 L225.07 166.46 L225.19 166.80 L225.30 167.13 L225.42 167.47 L225.54 167.81 L225.65 168.14 L225.77 168.48 L225.88 168.81 L226.00 169.15 L226.12 169.49 L226.23 169.82 L226.35 170.16 L226.47 170.49 L226.58 170.83 L226.70 171.17 L226.82 171.50 L226.93 171.84 L227.05 172.17 L227.17 172.51 L227.28 172.85 L227.40 173.18 L227.52 173.52 L227.63 173.85 L227.75 174.19 L227.86 174.53 L227.98 174.86 L228.10 175.20 L228.21 175.53 L228.33 175.87 L228.45 176.21 L228.56 176.54 L228.68 176.88 L228.80 177.21 L228.91 177.55 L229.03 177.88 L229.15 178.22 L229.26 178.56 L229.38 178.89 L229.50 179.23 L229.61 179.56 L229.73 179.90 L229.84 180.24 L229.96 180.57 L230.08 180.91 L230.19 181.24 L230.31 181.58 L230.43 181.92 L230.54 182.25 L230.66 182.59 L230.78 182.92 L230.89 183.26 L231.01 183.60 L231.13 183.93 L231.24 184.27 L231.36 184.60 L231.48 184.94 L231.59 185.28 L231.71 185.61 L231.82 185.95 L231.94 186.28 L232.06 186.62 L232.17 186.96 L232.29 187.29 L232.41 187.63 L232.52 187.96 L232.64 188.30 L232.76 188.64 L232.87 188.97 L232.99 189.31 L233.11 189.64 L233.22 189.98 L233.34 190.32 L233.46 190.65 L233.57 190.99 L233.69 191.32 L233.80 191.66 L233.92 192.00 L234.04 192.33 L234.15 192.67 L234.27 193.00 L234.39 193.34 L234.50 193.68 L234.62 194.01 L234.74 194.35 L234.85 194.68 L234.97 195.02 L235.09 195.36 L235.20 195.69 L235.32 196.03 L235.44 196.36 L235.55 196.70 L235.67 197.04 L235.78 197.37 L235.90 197.71 L236.02 198.04 L236.13 198.38 L236.25 198.72 L236.37 199.05 L236.48 199.39 L236.60 199.72 L236.72 200.06 L236.83 200.39 L236.95 200.72 L237.07 201.05 L237.18 201.38 L237.30 201.71 L237.42 202.03 L237.53 202.35 L237.65 202.67 L237.76 202.98 L237.88 203.29 L238.00 203.59 L238.11 203.89 L238.26 204.26 L238.41 204.63 L238.55 204.98 L238.70 205.33 L238.84 205.67 L238.99 206.01 L239.13 206.33 L239.28 206.65 L239.42 206.95 L239.60 207.31 L239.77 207.65 L239.95 207.98 L240.12 208.30 L240.30 208.60 L240.50 208.94 L240.71 209.25 L240.94 209.58 L241.17 209.89 L241.43 210.21 L241.73 210.52 L242.05 210.81 L242.37 211.06 L242.69 211.28 L243.01 211.46 L243.33 211.62 L243.65 211.76 L243.97 211.87 L244.29 211.97 L244.61 212.06 L244.93 212.13 L245.25 212.20 L245.57 212.25 L245.89 212.30 L246.21 212.34 L246.53 212.37 L246.85 212.40 L247.17 212.42 L247.49 212.45 L247.81 212.46 L248.13 212.48 L248.45 212.49 L248.77 212.51 L249.09 212.52 L249.41 212.52 L249.73 212.53 L250.05 212.54 L250.37 212.54 L250.69 212.55 L251.01 212.55 L251.33 212.55 L251.65 212.56 L251.97 212.56 L252.30 212.56 L252.62 212.56 L252.94 212.57 L253.26 212.57 L253.58 212.57 L253.90 212.57 L254.22 212.57 L254.54 212.57 L254.86 212.57 L255.18 212.57 L255.50 212.57 L255.82 212.57 L256.14 212.57 L256.46 212.57 L256.78 212.57 L257.10 212.57 L257.42 212.57 L257.74 212.57 L258.06 212.57 L258.38 212.57 L258.70 212.57 L259.02 212.57 L259.34 212.57 L259.66 212.57 L259.98 212.57 L260.30 212.57 L260.62 212.57 L260.94 212.57 L261.26 212.57 L261.58 212.57 L261.90 212.57 L262.22 212.57 L262.55 212.57 L262.87 212.58 L263.19 212.58 L263.51 212.58 L263.83 212.58 L264.15 212.58 L264.47 212.58 L264.79 212.58 L265.11 212.58 L265.43 212.58 L265.75 212.58 L266.07 212.58 L266.39 212.58 L266.71 212.58 L267.03 212.58 L267.35 212.58 L267.67 212.58 L267.99 212.58 L268.31 212.58 L268.63 212.58 L268.95 212.58 L269.27 212.58 L269.59 212.58 L269.91 212.58 L270.23 212.58 L270.55 212.58 L270.87 212.58 L271.19 212.58 L271.51 212.58 L271.83 212.58 L272.15 212.58 L272.47 212.58 L272.79 212.58 L273.12 212.58 L273.44 212.58 L273.76 212.58 L274.08 212.58 L274.40 212.58 L274.72 212.58 L275.04 212.58 L275.36 212.58 L275.68 212.58 L276.00 212.58 L276.32 212.58 L276.64 212.58 L276.96 212.58 L277.28 212.58 L277.60 212.58 L277.92 212.58 L278.24 212.58 L278.56 212.58 L278.88 212.58 L279.20 212.58 L279.52 212.58 L279.84 212.58 L280.16 212.58 L280.48 212.58 L280.80 212.58 L281.12 212.58 L281.44 212.58 L281.76 212.58 L282.08 212.58 L282.40 212.58 L282.72 212.58 L283.04 212.58 L283.36 212.58 L283.69 212.58 L284.01 212.58 L284.33 212.58 L284.65 212.58 L284.97 212.58 L285.29 212.58 L285.61 212.58 L285.93 212.58 L286.25 212.58 L286.57 212.58 L286.89 212.58 L287.21 212.58 L287.53 212.58 L287.85 212.58 L288.17 212.58 L288.49 212.58 L288.81 212.58 L289.13 212.58 L289.45 212.58 L289.77 212.58 L290.09 212.58 L290.41 212.58 L290.73 212.58 L291.05 212.58 L291.37 212.58 L291.69 212.58 L292.01 212.58 L292.33 212.58 L292.65 212.58 L292.97 212.58 L293.29 212.58 L293.61 212.58 L293.94 212.58 L294.26 212.58 L294.58 212.58 L294.90 212.58 L295.22 212.58 L295.54 212.58 L295.86 212.58 L296.18 212.58 L296.50 212.58 L296.82 212.58 L297.14 212.58 L297.46 212.58 L297.78 212.58 L298.10 212.58 L298.42 212.58 L298.74 212.58 L299.06 212.58 L299.38 212.58 L299.70 212.58 L300.02 212.58 L300.34 212.58 L300.66 212.58 L300.98 212.58 L301.30 212.58 L301.62 212.58 L301.94 212.58 L302.26 212.58 L302.58 212.58 L302.90 212.58 L303.22 212.58 L303.54 212.58 L303.86 212.58 L304.18 212.58 L304.51 212.58 L304.83 212.58 L305.15 212.58 L305.47 212.58 L305.79 212.58 L306.11 212.58 L306.43 212.58 L306.75 212.58 L307.07 212.58 L307.39 212.58 L307.71 212.58 L308.03 212.58 L308.35 212.58 L308.67 212.58 L308.99 212.58 L309.31 212.58 L309.63 212.58 L309.95 212.58 L310.27 212.58 L310.59 212.58 L310.91 212.58 L311.23 212.58 L311.55 212.58 L311.87 212.58 L312.19 212.58 L312.51 212.58 L312.83 212.58 L313.15 212.58 L313.47 212.58 L313.79 212.58 L314.11 212.58 L314.43 212.58 L314.75 212.58 L315.08 212.58 L315.40 212.58 L315.72 212.58 L316.04 212.58 L316.36 212.58 L316.68 212.58 L317.00 212.58 L317.32 212.58 L317.64 212.58 L317.96 212.59 L318.28 212.61 L318.60 212.66 L318.92 212.73 L319.24 212.83 L319.56 212.97 L319.88 213.14 L320.20 213.36 L320.52 213.61 L320.84 213.92 L321.13 214.23 L321.39 214.54 L321.63 214.85 L321.86 215.19 L322.06 215.50 L322.27 215.83 L322.44 216.14 L322.62 216.46 L322.79 216.79 L322.97 217.14 L323.14 217.50 L323.29 217.81 L323.43 218.12 L323.58 218.45 L323.72 218.78 L323.87 219.11 L324.01 219.45 L324.16 219.80 L324.31 220.15 L324.45 220.51 L324.60 220.87 L324.74 221.23 L324.89 221.60 L325.03 221.97 L325.18 222.35 L325.30 222.65 L325.41 222.96 L325.53 223.26 L325.65 223.57 L325.76 223.88 L325.88 224.19 L325.99 224.50 L326.11 224.81 L326.23 225.13 L326.34 225.44 L326.46 225.76 L326.58 226.08 L326.69 226.40 L326.81 226.72 L326.93 227.04 L327.04 227.36 L327.16 227.68 L327.28 228.00 L327.39 228.33 L327.51 228.65 L327.63 228.98 L327.74 229.30 L327.86 229.63 L327.97 229.96 L328.09 230.28 L328.21 230.61 L328.32 230.94 L328.44 231.27 L328.56 231.60 L328.67 231.93 L328.79 232.26 L328.91 232.59 L329.02 232.92 L329.14 233.25 L329.26 233.58 L329.37 233.91 L329.49 234.24 L329.61 234.57 L329.72 234.90 L329.84 235.24 L329.95 235.57 L330.07 235.90 L330.19 236.23 L330.30 236.57 L330.42 236.90 L330.54 237.23 L330.65 237.57 L330.77 237.90 L330.89 238.23 L331.00 238.57 L331.12 238.90 L331.24 239.24 L331.35 239.57 L331.47 239.90 L331.59 240.24 L331.70 240.57 L331.82 240.91 L331.94 241.24 L332.05 241.58 L332.17 241.91 L332.28 242.25 L332.40 242.58 L332.52 242.92 L332.63 243.25 L332.75 243.59 L332.87 243.92 L332.98 244.26 L333.10 244.59 L333.22 244.93 L333.33 245.26 L333.45 245.60 L333.57 245.93 L333.68 246.27 L333.80 246.60 L333.92 246.94 L334.03 247.27 L334.15 247.61 L334.26 247.95 L334.38 248.28 L334.50 248.62 L334.61 248.95 L334.73 249.29 L334.85 249.62 L334.96 249.96 L335.08 250.29 L335.20 250.63 L335.31 250.97 L335.43 251.30 L335.55 251.64 L335.66 251.97 L335.78 252.31 L335.90 252.64 L336.01 252.98 L336.13 253.32 L336.24 253.65 L336.36 253.99 L336.48 254.32 L336.59 254.66 L336.71 255.00 L336.83 255.33 L336.94 255.67 L337.06 256.00 L337.18 256.34 L337.29 256.67 L337.41 257.01 L337.53 257.35 L337.64 257.68 L337.76 258.02 L337.88 258.35 L337.99 258.69 L338.11 259.03 L338.22 259.36 L338.34 259.70 L338.46 260.03 L338.57 260.37 L338.69 260.71 L338.81 261.04 L338.92 261.38 L339.04 261.71 L339.16 262.05 L339.27 262.39 L339.39 262.72 L339.51 263.06 L339.62 263.39 L339.74 263.73 L339.86 264.06 L339.97 264.40 L340.09 264.74 L340.20 265.07 L340.32 265.41 L340.44 265.74 L340.55 266.08 L340.67 266.42 L340.79 266.75 L340.90 267.09 L341.02 267.42 L341.14 267.76 L341.25 268.10 L341.37 268.43 L341.49 268.77 L341.60 269.10 L341.72 269.44 L341.84 269.78 L341.95 270.11 L342.07 270.45 L342.18 270.78 L342.30 271.12 L342.42 271.46 L342.53 271.79 L342.65 272.13 L342.77 272.46 L342.88 272.80 L343.00 273.14 L343.12 273.47 L343.23 273.81 L343.35 274.14 L343.47 274.48 L343.58 274.82 L343.70 275.15 L343.82 275.49 L343.93 275.82 L344.05 276.16 L344.16 276.50 L344.28 276.83 L344.40 277.17 L344.51 277.50 L344.63 277.84 L344.75 278.18 L344.86 278.51 L344.98 278.85 L345.10 279.18 L345.21 279.52 L345.33 279.86 L345.45 280.19 L345.56 280.53 L345.68 280.86 L345.80 281.20 L345.91 281.54 L346.03 281.87 L346.14 282.21 L346.26 282.54 L346.38 282.88 L346.49 283.22 L346.61 283.55 L346.73 283.89 L346.84 284.22 L346.96 284.56 L347.08 284.90 L347.19 285.23 L347.31 285.57 L347.43 285.90 L347.54 286.24 L347.66 286.58 L347.78 286.91 L347.89 287.25 L348.01 287.58 L348.13 287.92 L348.24 288.25 L348.36 288.59 L348.47 288.93 L348.59 289.26 L348.71 289.60 L348.82 289.93 L348.94 290.27 L349.06 290.61 L349.17 290.94 L349.29 291.28 L349.41 291.61 L349.52 291.95 L349.64 292.29 L349.76 292.62 L349.87 292.96 L349.99 293.29 L350.11 293.63 L350.22 293.97 L350.34 294.30 L350.45 294.64 L350.57 294.97 L350.69 295.31 L350.80 295.65 L350.92 295.98 L351.04 296.32 L351.15 296.65 L351.27 296.99 L351.39 297.33 L351.50 297.66 L351.62 298.00 L351.74 298.33 L351.85 298.67 L351.97 299.01 L352.09 299.34 L352.20 299.68 L352.32 300.01 L352.43 300.35 L352.55 300.69 L352.67 301.02 L352.78 301.36 L352.90 301.69 L353.02 302.03 L353.13 302.37 L353.25 302.70 L353.37 303.04 L353.48 303.37 L353.60 303.71 L353.72 304.05 L353.83 304.38 L353.95 304.72 L354.07 305.05 L354.18 305.39 L354.30 305.73 L354.41 306.06 L354.53 306.40 L354.65 306.73 L354.76 307.07 L354.88 307.41 L355.00 307.74 L355.11 308.08 L355.23 308.41 L355.35 308.75 L355.46 309.09 L355.58 309.42 L355.70 309.76 L355.81 310.09 L355.93 310.43 L356.05 310.77 L356.16 311.10 L356.28 311.44 L356.39 311.77 L356.51 312.11 L356.63 312.45 L356.74 312.78 L356.86 313.12 L356.98 313.45 L357.09 313.79 L357.21 314.13 L357.33 314.46 L357.44 314.80 L357.56 315.13 L357.68 315.47 L357.79 315.81 L357.91 316.14 L358.03 316.48 L358.14 316.81 L358.26 317.15 L358.37 317.49 L358.49 317.82 L358.61 318.16 L358.72 318.49 L358.84 318.83 L358.96 319.17 L359.07 319.50 L359.19 319.84 L359.31 320.17 L359.42 320.51 L359.54 320.85 L359.66 321.18 L359.77 321.52 L359.89 321.85 L360.01 322.19 L360.12 322.52 L360.24 322.86 L360.35 323.19 L360.47 323.52 L360.59 323.85 L360.70 324.18 L360.82 324.50 L360.94 324.82 L361.05 325.14 L361.17 325.46 L361.29 325.77 L361.40 326.07 L361.52 326.38 L361.67 326.75 L361.81 327.12 L361.96 327.48 L362.10 327.83 L362.25 328.17 L362.39 328.51 L362.54 328.84 L362.68 329.16 L362.83 329.47 L362.98 329.77 L363.15 330.12 L363.33 330.45 L363.50 330.78 L363.67 331.09 L363.88 331.43 L364.08 331.75 L364.29 332.05 L364.52 332.38 L364.78 332.70 L365.07 333.03 L365.39 333.34 L365.71 333.61 L366.03 333.84 L366.35 334.03 L366.67 334.20 L366.99 334.34 L367.31 334.47 L367.63 334.57 L367.95 334.66 L368.28 334.74 L368.60 334.81 L368.92 334.86 L369.24 334.91 L369.56 334.96 L369.88 334.99 L370.20 335.02 L370.52 335.05 L370.84 335.07 L371.16 335.09 L371.48 335.11 L371.80 335.12 L372.12 335.13 L372.44 335.15 L372.76 335.15 L373.08 335.16 L373.40 335.17 L373.72 335.17 L374.04 335.18 L374.36 335.18 L374.68 335.19 L375.00 335.19 L375.32 335.19 L375.64 335.19 L375.96 335.20 L376.28 335.20 L376.60 335.20 L376.92 335.20 L377.24 335.20 L377.56 335.20 L377.88 335.20 L378.20 335.20 L378.53 335.21 L378.85 335.21 L379.17 335.21 L379.49 335.21 L379.81 335.21 L380.13 335.21 L380.45 335.21 L380.77 335.21 L381.09 335.21 L381.41 335.21 L381.73 335.21 L382.05 335.21 L382.37 335.21 L382.69 335.21 L383.01 335.21 L383.33 335.21 L383.65 335.21 L383.97 335.21 L384.29 335.21 L384.61 335.21 L384.93 335.21 L385.25 335.21 L385.57 335.21 L385.89 335.21 L386.21 335.21 L386.53 335.21 L386.85 335.21 L387.17 335.21 L387.49 335.21 L387.81 335.21 L388.13 335.21 L388.45 335.21 L388.77 335.21 L389.10 335.21 L389.42 335.21 L389.74 335.21 L390.06 335.21 L390.38 335.21 L390.70 335.21 L391.02 335.21 L391.34 335.21 L391.66 335.21 L391.98 335.21 L392.30 335.21 L392.62 335.21 L392.94 335.21 L393.26 335.21 L393.58 335.21 L393.90 335.21 L394.22 335.21 L394.54 335.21 L394.86 335.21 L395.18 335.21 L395.50 335.21 L395.82 335.21 L396.14 335.21 L396.46 335.21 L396.78 335.21 L397.10 335.21 L397.42 335.21 L397.74 335.21 L398.06 335.21 L398.38 335.21 L398.70 335.21 L399.02 335.21 L399.34 335.21 L399.67 335.21 L399.99 335.21 L400.31 335.21 L400.63 335.21 L400.95 335.21 L401.27 335.21 L401.59 335.21 L401.91 335.21 L402.23 335.21 L402.55 335.21 L402.87 335.21 L403.19 335.21 L403.51 335.21 L403.83 335.21 L404.15 335.21 L404.47 335.21 L404.79 335.21 L405.11 335.21 L405.43 335.21 L405.75 335.21 L406.07 335.21 L406.39 335.21 L406.71 335.21 L407.03 335.21 L407.35 335.21 L407.67 335.21 L407.99 335.21 L408.31 335.21 L408.63 335.21 L408.95 335.21 L409.27 335.21 L409.59 335.21 L409.92 335.21 L410.24 335.21 L410.56 335.21 L410.88 335.21 L411.20 335.21 L411.52 335.21 L411.84 335.21 L412.16 335.21 L412.48 335.21 L412.80 335.21 L413.12 335.21 L413.44 335.21 L413.76 335.21 L414.08 335.21 L414.40 335.21 L414.72 335.21 L415.04 335.21 L415.36 335.21 L415.68 335.20 L416.00 335.18 L416.32 335.14 L416.64 335.08 L416.96 334.98 L417.28 334.85 L417.60 334.68 L417.92 334.47 L418.24 334.20 L418.56 333.89 L418.85 333.56 L419.12 333.23 L419.35 332.91 L419.58 332.57 L419.79 332.26 L419.99 331.92 L420.16 331.62 L420.34 331.31 L420.51 330.98 L420.69 330.64 L420.86 330.28 L421.01 329.98 L421.15 329.67 L421.30 329.35 L421.45 329.03 L421.59 328.69 L421.74 328.36 L421.88 328.01 L422.03 327.66 L422.17 327.31 L422.32 326.95 L422.47 326.59 L422.61 326.23 L422.76 325.86 L422.90 325.48 L423.02 325.18 L423.13 324.88 L423.25 324.58 L423.37 324.27 L423.48 323.96 L423.60 323.66 L423.72 323.34 L423.83 323.03 L423.95 322.72 L424.07 322.41 L424.18 322.09 L424.30 321.77 L424.42 321.45 L424.53 321.14 L424.65 320.82 L424.77 320.50 L424.88 320.17 L425.00 319.85 L425.12 319.53 L425.23 319.21 L425.35 318.88 L425.46 318.56 L425.58 318.23 L425.70 317.90 L425.81 317.58 L425.93 317.25 L426.05 316.92 L426.16 316.59 L426.28 316.27 L426.40 315.94 L426.51 315.61 L426.63 315.28 L426.75 314.95 L426.86 314.62 L426.98 314.29 L427.10 313.96 L427.21 313.62 L427.33 313.29 L427.44 312.96 L427.56 312.63 L427.68 312.30 L427.79 311.97 L427.91 311.63 L428.03 311.30 L428.14 310.97 L428.26 310.63 L428.38 310.30 L428.49 309.97 L428.61 309.63 L428.73 309.30 L428.84 308.97 L428.96 308.63 L429.08 308.30 L429.19 307.96 L429.31 307.63 L429.42 307.30 L429.54 306.96 L429.66 306.63 L429.77 306.29 L429.89 305.96 L430.01 305.62 L430.12 305.29 L430.24 304.95 L430.36 304.62 L430.47 304.28 L430.59 303.95 L430.71 303.61 L430.82 303.28 L430.94 302.94 L431.06 302.61 L431.17 302.27 L431.29 301.94 L431.40 301.60 L431.52 301.27 L431.64 300.93 L431.75 300.59 L431.87 300.26 L431.99 299.92 L432.10 299.59 L432.22 299.25 L432.34 298.92 L432.45 298.58 L432.57 298.25 L432.69 297.91 L432.80 297.57 L432.92 297.24 L433.04 296.90 L433.15 296.57 L433.27 296.23 L433.38 295.90 L433.50 295.56 L433.62 295.22 L433.73 294.89 L433.85 294.55 L433.97 294.22 L434.08 293.88 L434.20 293.55 L434.32 293.21 L434.43 292.87 L434.55 292.54 L434.67 292.20 L434.78 291.87 L434.90 291.53 L435.02 291.19 L435.13 290.86 L435.25 290.52 L435.36 290.19 L435.48 289.85 L435.60 289.52 L435.71 289.18 L435.83 288.84 L435.95 288.51 L436.06 288.17 L436.18 287.84 L436.30 287.50 L436.41 287.16 L436.53 286.83 L436.65 286.49 L436.76 286.16 L436.88 285.82 L437.00 285.48 L437.11 285.15 L437.23 284.81 L437.34 284.48 L437.46 284.14 L437.58 283.80 L437.69 283.47 L437.81 283.13 L437.93 282.80 L438.04 282.46 L438.16 282.12 L438.28 281.79 L438.39 281.45 L438.51 281.12 L438.63 280.78 L438.74 280.44 L438.86 280.11 L438.98 279.77 L439.09 279.44 L439.21 279.10 L439.32 278.77 L439.44 278.43 L439.56 278.09 L439.67 277.76 L439.79 277.42 L439.91 277.09 L440.02 276.75 L440.14 276.41 L440.26 276.08 L440.37 275.74 L440.49 275.41 L440.61 275.07 L440.72 274.73 L440.84 274.40 L440.96 274.06 L441.07 273.73 L441.19 273.39 L441.31 273.05 L441.42 272.72 L441.54 272.38 L441.65 272.05 L441.77 271.71 L441.89 271.37 L442.00 271.04 L442.12 270.70 L442.24 270.37 L442.35 270.03 L442.47 269.69 L442.59 269.36 L442.70 269.02 L442.82 268.69 L442.94 268.35 L443.05 268.01 L443.17 267.68 L443.29 267.34 L443.40 267.01 L443.52 266.67 L443.63 266.33 L443.75 266.00 L443.87 265.66 L443.98 265.33 L444.10 264.99 L444.22 264.65 L444.33 264.32 L444.45 263.98 L444.57 263.65 L444.68 263.31 L444.80 262.97 L444.92 262.64 L445.03 262.30 L445.15 261.97 L445.27 261.63 L445.38 261.29 L445.50 260.96 L445.61 260.62 L445.73 260.29 L445.85 259.95 L445.96 259.61 L446.08 259.28 L446.20 258.94 L446.31 258.61 L446.43 258.27 L446.55 257.93 L446.66 257.60 L446.78 257.26 L446.90 256.93 L447.01 256.59 L447.13 256.25 L447.25 255.92 L447.36 255.58 L447.48 255.25 L447.59 254.91 L447.71 254.57 L447.83 254.24 L447.94 253.90 L448.06 253.57 L448.18 253.23 L448.29 252.89 L448.41 252.56 L448.53 252.22 L448.64 251.89 L448.76 251.55 L448.88 251.21 L448.99 250.88 L449.11 250.54 L449.23 250.21 L449.34 249.87 L449.46 249.53 L449.57 249.20 L449.69 248.86 L449.81 248.53 L449.92 248.19 L450.04 247.85 L450.16 247.52 L450.27 247.18 L450.39 246.85 L450.51 246.51 L450.62 246.18 L450.74 245.84 L450.86 245.50 L450.97 245.17 L451.09 244.83 L451.21 244.50 L451.32 244.16 L451.44 243.82 L451.55 243.49 L451.67 243.15 L451.79 242.82 L451.90 242.48 L452.02 242.14 L452.14 241.81 L452.25 241.47 L452.37 241.14 L452.49 240.80 L452.60 240.46 L452.72 240.13 L452.84 239.79 L452.95 239.46 L453.07 239.12 L453.19 238.78 L453.30 238.45 L453.42 238.11 L453.53 237.78 L453.65 237.44 L453.77 237.10 L453.88 236.77 L454.00 236.43 L454.12 236.10 L454.23 235.76 L454.35 235.42 L454.47 235.09 L454.58 234.75 L454.70 234.42 L454.82 234.08 L454.93 233.74 L455.05 233.41 L455.17 233.07 L455.28 232.74 L455.40 232.40 L455.52 232.06 L455.63 231.73 L455.75 231.39 L455.86 231.06 L455.98 230.72 L456.10 230.38 L456.21 230.05 L456.33 229.71 L456.45 229.38 L456.56 229.04 L456.68 228.70 L456.80 228.37 L456.91 228.03 L457.03 227.70 L457.15 227.36 L457.26 227.02 L457.38 226.69 L457.50 226.35 L457.61 226.02 L457.73 225.68 L457.84 225.34 L457.96 225.01 L458.08 224.68 L458.19 224.34 L458.31 224.01 L458.43 223.68 L458.54 223.36 L458.66 223.03 L458.78 222.71 L458.89 222.39 L459.01 222.08 L459.13 221.77 L459.24 221.46 L459.36 221.16 L459.50 220.78 L459.65 220.42 L459.80 220.06 L459.94 219.70 L460.09 219.36 L460.23 219.02 L460.38 218.70 L460.52 218.38 L460.67 218.07 L460.81 217.77 L460.99 217.42 L461.16 217.08 L461.34 216.76 L461.51 216.45 L461.72 216.11 L461.92 215.78 L462.12 215.48 L462.36 215.16 L462.62 214.83 L462.91 214.50 L463.23 214.19 L463.55 213.93 L463.87 213.70 L464.19 213.50 L464.51 213.33 L464.83 213.19 L465.15 213.07 L465.47 212.96 L465.79 212.87 L466.11 212.79 L466.43 212.73 L466.75 212.67 L467.08 212.62 L467.40 212.58 L467.72 212.54 L468.04 212.51 L468.36 212.48 L468.68 212.46 L469.00 212.44 L469.32 212.43 L469.64 212.41 L469.96 212.40 L470.28 212.39 L470.60 212.38 L470.92 212.37 L471.24 212.36 L471.56 212.36 L471.88 212.35 L472.20 212.35 L472.52 212.35 L472.84 212.34 L473.16 212.34 L473.48 212.34 L473.80 212.34 L474.12 212.33 L474.44 212.33 L474.76 212.33 L475.08 212.33 L475.40 212.33 L475.72 212.33 L476.04 212.33 L476.36 212.33 L476.68 212.33 L477.00 212.33 L477.32 212.33 L477.65 212.33 L477.97 212.33 L478.29 212.33 L478.61 212.33 L478.93 212.33 L479.25 212.33 L479.57 212.33 L479.89 212.33 L480.21 212.33 L480.53 212.33 L480.85 212.33 L481.17 212.33 L481.49 212.33 L481.81 212.33 L482.13 212.33 L482.45 212.33 L482.77 212.33 L483.09 212.33 L483.41 212.33 L483.73 212.33 L484.05 212.32 L484.37 212.32 L484.69 212.32 L485.01 212.32 L485.33 212.32 L485.65 212.32 L485.97 212.32 L486.29 212.32 L486.61 212.32 L486.93 212.32 L487.25 212.32 L487.57 212.32 L487.90 212.32 L488.22 212.32 L488.54 212.32 L488.86 212.32 L489.18 212.32 L489.50 212.32 L489.82 212.32 L490.14 212.32 L490.46 212.32 L490.78 212.32 L491.10 212.32 L491.42 212.32 L491.74 212.32 L492.06 212.32 L492.38 212.32 L492.70 212.32 L493.02 212.32 L493.34 212.32 L493.66 212.32 L493.98 212.32 L494.30 212.32 L494.62 212.32 L494.94 212.32 L495.26 212.32 L495.58 212.32 L495.90 212.32 L496.22 212.32 L496.54 212.32 L496.86 212.32 L497.18 212.32 L497.50 212.32 L497.82 212.32 L498.14 212.32 L498.47 212.32 L498.79 212.32 L499.11 212.32 L499.43 212.32 L499.75 212.32 L500.07 212.32 L500.39 212.32 L500.71 212.32 L501.03 212.32 L501.35 212.32 L501.67 212.32 L501.99 212.32 L502.31 212.32 L502.63 212.32 L502.95 212.32 L503.27 212.32 L503.59 212.32 L503.91 212.32 L504.23 212.32 L504.55 212.32 L504.87 212.32 L505.19 212.32 L505.51 212.32 L505.83 212.32 L506.15 212.32 L506.47 212.32 L506.79 212.32 L507.11 212.32 L507.43 212.32 L507.75 212.32 L508.07 212.32 L508.39 212.32 L508.71 212.32 L509.04 212.32 L509.36 212.32 L509.68 212.32 L510.00 212.32 L510.32 212.32 L510.64 212.32 L510.96 212.32 L511.28 212.32 L511.60 212.32 L511.92 212.32 L512.24 212.32 L512.56 212.32 L512.88 212.32 L513.20 212.32 L513.52 212.32 L513.84 212.32 L514.16 212.32 L514.48 212.32 L514.80 212.32 L515.12 212.32 L515.44 212.32 L515.76 212.32 L516.08 212.32 L516.40 212.32 L516.72 212.32 L517.04 212.32 L517.36 212.32 L517.68 212.32 L518.00 212.32 L518.32 212.32 L518.64 212.32 L518.96 212.32 L519.29 212.32 L519.61 212.32 L519.93 212.32 L520.25 212.32 L520.57 212.32 L520.89 212.32 L521.21 212.32 L521.53 212.32 L521.85 212.32 L522.17 212.32 L522.49 212.32 L522.81 212.32 L523.13 212.32 L523.45 212.32 L523.77 212.32 L524.09 212.32 L524.41 212.32 L524.73 212.32 L525.05 212.32 L525.37 212.32 L525.69 212.32 L526.01 212.32 L526.33 212.32 L526.65 212.32 L526.97 212.32 L527.29 212.32 L527.61 212.32 L527.93 212.32 L528.25 212.32 L528.57 212.32 L528.89 212.32 L529.21 212.32 L529.53 212.32 L529.86 212.32 L530.18 212.32 L530.50 212.32 L530.82 212.32 L531.14 212.32 L531.46 212.32 L531.78 212.32 L532.10 212.32 L532.42 212.32 L532.74 212.32 L533.00 212.32" fill="none" stroke="#EDB120" stroke-width="3.0" stroke-linejoin="round"/>
<rect x="67.1" y="28.5" width="465.9" height="367.9" fill="none" stroke="#4a4a4a" stroke-width="1.2"/>
<text x="67.10" y="414.7" font-family="'Liberation Serif', serif" font-size="14.2" fill="#262626" text-anchor="middle">0</text>
<text x="125.34" y="414.7" font-family="'Liberation Serif', serif" font-size="14.2" fill="#262626" text-anchor="middle">1</text>
<text x="183.57" y="414.7" font-family="'Liberation Serif', serif" font-size="14.2" fill="#262626" text-anchor="middle">2</text>
<text x="241.81" y="414.7" font-family="'Liberation Serif', serif" font-size="14.2" fill="#262626" text-anchor="middle">3</text>
<text x="300.05" y="414.7" font-family="'Liberation Serif', serif" font-size="14.2" fill="#262626" text-anchor="middle">4</text>
<text x="358.29" y="414.7" font-family="'Liberation Serif', serif" font-size="14.2" fill="#262626" text-anchor="middle">5</text>
<text x="416.52" y="414.7" font-family="'Liberation Serif', serif" font-size="14.2" fill="#262626" text-anchor="middle">6</text>
<text x="474.76" y="414.7" font-family="'Liberation Serif', serif" font-size="14.2" fill="#262626" text-anchor="middle">7</text>
<text x="533.00" y="414.7" font-family="'Liberation Serif', serif" font-size="14.2" fill="#262626" text-anchor="middle">8</text>
<text x="61.099999999999994" y="400.50" font-family="'Liberation Serif', serif" font-size="14.2" fill="#262626" text-anchor="end"><tspan font-size="16.33" dy="1.1">−</tspan><tspan dy="-1.1" dx="0.9">150</tspan></text>
<text x="61.099999999999994" y="339.18" font-family="'Liberation Serif', serif" font-size="14.2" fill="#262626" text-anchor="end"><tspan font-size="16.33" dy="1.1">−</tspan><tspan dy="-1.1" dx="0.9">100</tspan></text>
<text x="61.099999999999994" y="277.87" font-family="'Liberation Serif', serif" font-size="14.2" fill="#262626" text-anchor="end"><tspan font-size="16.33" dy="1.1">−</tspan><tspan dy="-1.1" dx="0.9">50</tspan></text>
<text x="61.099999999999994" y="216.55" font-family="'Liberation Serif', serif" font-size="14.2" fill="#262626" text-anchor="end">0</text>
<text x="61.099999999999994" y="155.23" font-family="'Liberation Serif', serif" font-size="14.2" fill="#262626" text-anchor="end">50</text>
<text x="61.099999999999994" y="93.92" font-family="'Liberation Serif', serif" font-size="14.2" fill="#262626" text-anchor="end">100</text>
<text x="61.099999999999994" y="32.60" font-family="'Liberation Serif', serif" font-size="14.2" fill="#262626" text-anchor="end">150</text>
<text x="299.65000000000003" y="21.4" font-family="'Liberation Sans', sans-serif" font-size="15.7" font-weight="bold" fill="#000" text-anchor="middle">Compensation Disabled</text>
<text x="300.05" y="436.6" font-family="'Liberation Sans', sans-serif" font-size="15.7" fill="#262626" text-anchor="middle">Time (s)</text>
<text transform="translate(20.4,211.45) rotate(-90)" font-family="'Liberation Sans', sans-serif" font-size="15.7" fill="#262626" text-anchor="middle">Position (rad)</text>
<rect x="135.7" y="84.9" width="70.0" height="10.099999999999994" fill="none" stroke="#000" stroke-width="1.5"/>
<rect x="234.4" y="207.1" width="91.29999999999998" height="9.900000000000006" fill="none" stroke="#000" stroke-width="1.5"/>
<rect x="355.8" y="329.3" width="70.0" height="10.5" fill="none" stroke="#000" stroke-width="1.5"/>
<rect x="452.2" y="207.2" width="80.80000000000001" height="10.300000000000011" fill="none" stroke="#000" stroke-width="1.5"/>
<line x1="205.7" y1="89.5" x2="235.7" y2="65.3" stroke="#000" stroke-width="1.5"/>
<line x1="234.4" y1="212.4" x2="212.7" y2="247.3" stroke="#000" stroke-width="1.5"/>
<line x1="355.8" y1="334.4" x2="331.6" y2="343.6" stroke="#000" stroke-width="1.5"/>
<line x1="452.2" y1="210.7" x2="418.3" y2="195.5" stroke="#000" stroke-width="1.5"/>
<clipPath id="c0"><rect x="256.3" y="39.6" width="107.19999999999999" height="53.4"/></clipPath>
<rect x="256.3" y="39.6" width="107.19999999999999" height="53.4" fill="#e8e8e8"/>
<line x1="258.09" y1="39.6" x2="258.09" y2="93.0" stroke="#f2f2f2" stroke-width="1"/>
<line x1="275.95" y1="39.6" x2="275.95" y2="93.0" stroke="#f2f2f2" stroke-width="1"/>
<line x1="293.82" y1="39.6" x2="293.82" y2="93.0" stroke="#f2f2f2" stroke-width="1"/>
<line x1="311.69" y1="39.6" x2="311.69" y2="93.0" stroke="#f2f2f2" stroke-width="1"/>
<line x1="329.55" y1="39.6" x2="329.55" y2="93.0" stroke="#f2f2f2" stroke-width="1"/>
<line x1="347.42" y1="39.6" x2="347.42" y2="93.0" stroke="#f2f2f2" stroke-width="1"/>
<line x1="256.3" y1="89.30" x2="363.5" y2="89.30" stroke="#f2f2f2" stroke-width="1"/>
<line x1="256.3" y1="66.86" x2="363.5" y2="66.86" stroke="#f2f2f2" stroke-width="1"/>
<line x1="256.3" y1="44.42" x2="363.5" y2="44.42" stroke="#f2f2f2" stroke-width="1"/>
<g clip-path="url(#c0)">
<path d="M265.55 126.66 L265.59 124.58 L265.64 122.38 L265.68 120.22 L265.72 118.11 L265.77 116.04 L265.81 114.01 L265.86 112.03 L265.90 110.08 L265.95 108.18 L265.99 106.33 L266.04 104.51 L266.08 102.74 L266.13 101.01 L266.17 99.33 L266.22 97.68 L266.26 96.08 L266.31 94.52 L266.35 93.01 L266.39 91.53 L266.44 90.10 L266.48 88.72 L266.53 87.37 L266.57 86.07 L266.62 84.81 L266.66 83.59 L266.71 82.42 L266.75 81.29 L266.80 80.20 L266.84 79.16 L266.89 78.15 L266.93 77.19 L266.98 76.27 L267.02 75.40 L267.06 74.57 L267.11 73.78 L267.15 73.03 L267.20 72.33 L267.24 71.66 L267.29 71.04 L267.33 70.47 L267.38 69.93 L267.42 69.44 L267.47 69.00 L267.51 68.59 L267.56 68.23 L267.60 67.91 L267.69 67.39 L267.78 67.05 L268.09 66.86 L268.40 66.86 L268.72 66.86 L269.03 66.86 L269.34 66.86 L269.66 66.86 L269.97 66.86 L270.28 66.86 L270.59 66.86 L270.91 66.86 L271.22 66.86 L271.53 66.86 L271.84 66.86 L272.16 66.86 L272.47 66.86 L272.78 66.86 L273.09 66.86 L273.41 66.86 L273.72 66.86 L274.03 66.86 L274.35 66.86 L274.66 66.86 L274.97 66.86 L275.28 66.86 L275.60 66.86 L275.91 66.86 L276.22 66.86 L276.53 66.86 L276.85 66.86 L277.11 66.86 M278.10 66.86 L278.41 66.86 L278.72 66.86 L279.04 66.86 L279.35 66.86 L279.66 66.86 L279.97 66.86 L280.29 66.86 L280.60 66.86 L280.91 66.86 L281.22 66.86 L281.54 66.86 L281.85 66.86 L282.16 66.86 L282.47 66.86 L282.79 66.86 L283.10 66.86 L283.41 66.86 L283.73 66.86 L284.04 66.86 L284.35 66.86 L284.66 66.86 L284.98 66.86 L285.29 66.86 L285.60 66.86 L285.91 66.86 L286.23 66.86 L286.54 66.86 L286.85 66.86 L287.16 66.86 L287.48 66.86 L287.61 66.86 M344.92 67.20 L345.01 67.63 L345.10 68.23 L345.14 68.59 L345.19 69.00 L345.23 69.44 L345.28 69.93 L345.32 70.47 L345.37 71.04 L345.41 71.66 L345.45 72.33 L345.50 73.03 L345.54 73.78 L345.59 74.57 L345.63 75.40 L345.68 76.27 L345.72 77.19 L345.77 78.15 L345.81 79.16 L345.86 80.20 L345.90 81.29 L345.95 82.42 L345.99 83.59 L346.04 84.81 L346.08 86.07 L346.12 87.37 L346.17 88.72 L346.21 90.10 L346.26 91.53 L346.30 93.01 L346.35 94.52 L346.39 96.08 L346.44 97.68 L346.48 99.33 L346.53 101.01 L346.57 102.74 L346.62 104.51 L346.66 106.33 L346.71 108.18 L346.75 110.08 L346.79 112.03 L346.84 114.01 L346.88 116.04 L346.93 118.11 L346.97 120.22 L347.02 122.38 L347.06 124.58 L347.11 126.66 L347.42 126.66 L347.73 126.66 L348.05 126.66 L348.36 126.66 L348.67 126.66 L348.98 126.66 L349.03 126.66" fill="none" stroke="#0072BD" stroke-width="3.0" stroke-linejoin="round"/>
<path d="M272.20 126.66 L272.38 125.87 L272.42 125.05 L272.47 124.24 L272.51 123.44 L272.56 122.66 L272.60 121.88 L272.65 121.12 L272.69 120.36 L272.74 119.62 L272.78 118.89 L272.83 118.17 L272.87 117.45 L272.92 116.75 L272.96 116.06 L273.01 115.37 L273.05 114.70 L273.09 114.04 L273.14 113.38 L273.18 112.73 L273.23 112.10 L273.27 111.47 L273.32 110.85 L273.36 110.24 L273.41 109.64 L273.45 109.04 L273.50 108.46 L273.54 107.88 L273.59 107.31 L273.63 106.75 L273.68 106.19 L273.72 105.65 L273.76 105.11 L273.81 104.58 L273.85 104.05 L273.90 103.54 L273.94 103.03 L273.99 102.52 L274.03 102.03 L274.08 101.54 L274.12 101.06 L274.17 100.58 L274.21 100.12 L274.26 99.65 L274.30 99.20 L274.35 98.75 L274.39 98.31 L274.43 97.87 L274.48 97.44 L274.52 97.01 L274.57 96.60 L274.61 96.18 L274.66 95.78 L274.70 95.37 L274.75 94.98 L274.79 94.59 L274.84 94.20 L274.88 93.82 L274.93 93.45 L274.97 93.08 L275.02 92.71 L275.06 92.36 L275.10 92.00 L275.15 91.65 L275.19 91.31 L275.24 90.97 L275.28 90.63 L275.33 90.30 L275.37 89.98 L275.42 89.66 L275.46 89.34 L275.51 89.03 L275.55 88.72 L275.60 88.42 L275.69 87.82 L275.77 87.24 L275.86 86.68 L275.95 86.13 L276.04 85.60 L276.13 85.09 L276.22 84.58 L276.31 84.09 L276.40 83.62 L276.49 83.16 L276.58 82.71 L276.67 82.27 L276.76 81.85 L276.85 81.43 L276.94 81.03 L277.03 80.64 L277.11 80.26 L277.20 79.89 L277.29 79.53 L277.38 79.18 L277.47 78.84 L277.56 78.51 L277.65 78.19 L277.74 77.88 L277.83 77.57 L277.96 77.13 L278.10 76.71 L278.23 76.31 L278.37 75.92 L278.50 75.55 L278.63 75.19 L278.77 74.85 L278.90 74.52 L279.04 74.20 L279.17 73.90 L279.35 73.52 L279.53 73.16 L279.71 72.81 L279.88 72.49 L280.06 72.18 L280.29 71.82 L280.51 71.49 L280.73 71.18 L281.00 70.83 L281.27 70.51 L281.58 70.17 L281.89 69.86 L282.21 69.58 L282.52 69.33 L282.83 69.10 L283.14 68.89 L283.46 68.70 L283.77 68.53 L284.08 68.37 L284.40 68.23 L284.71 68.10 L285.02 67.99 L285.33 67.88 L285.65 67.79 L285.96 67.70 L286.27 67.62 L286.58 67.55 L286.90 67.49 L287.21 67.43 L287.52 67.38 L287.83 67.33 L288.15 67.28 L288.46 67.24 L288.77 67.21 L289.09 67.18 L289.40 67.15 L289.71 67.12 L290.02 67.10 L290.34 67.07 L290.65 67.05 L290.96 67.04 L291.27 67.02 L291.59 67.01 L291.90 66.99 L292.21 66.98 L292.52 66.97 L292.84 66.96 L293.15 66.95 L293.46 66.94 L293.78 66.93 L294.09 66.93 L294.40 66.92 L294.71 66.92 L295.03 66.91 L295.34 66.91 L295.65 66.90 L295.96 66.90 L296.28 66.89 L296.59 66.89 L296.90 66.89 L297.21 66.89 L297.53 66.88 L297.84 66.88 L298.15 66.88 L298.47 66.88 L298.78 66.88 L299.09 66.87 L299.40 66.87 L299.72 66.87 L300.03 66.87 L300.34 66.87 L300.65 66.87 L300.97 66.87 L301.28 66.87 L301.59 66.87 L301.90 66.87 L302.22 66.87 L302.53 66.87 L302.84 66.87 L303.16 66.86 L303.47 66.86 L303.78 66.86 L304.09 66.86 L304.41 66.86 L304.72 66.86 L305.03 66.86 L305.34 66.86 L305.66 66.86 L305.97 66.86 L306.28 66.86 L306.59 66.86 L306.91 66.86 L307.22 66.86 L307.53 66.86 L307.85 66.86 L308.16 66.86 L308.47 66.86 L308.78 66.86 L309.10 66.86 L309.41 66.86 L309.72 66.86 L310.03 66.86 L310.35 66.86 L310.66 66.86 L310.97 66.86 L311.28 66.86 L311.60 66.86 L311.91 66.86 L312.22 66.86 L312.54 66.86 L312.85 66.86 L313.16 66.86 L313.47 66.86 L313.79 66.86 L314.10 66.86 L314.41 66.86 L314.72 66.86 L315.04 66.86 L315.35 66.86 L315.66 66.86 L315.97 66.86 L316.29 66.86 L316.60 66.86 L316.91 66.86 L317.23 66.86 L317.54 66.86 L317.85 66.86 L318.16 66.86 L318.48 66.86 L318.79 66.86 L319.10 66.86 L319.41 66.86 L319.73 66.86 L320.04 66.86 L320.35 66.86 L320.66 66.86 L320.98 66.86 L321.29 66.86 L321.60 66.86 L321.92 66.86 L322.23 66.86 L322.54 66.86 L322.85 66.86 L323.17 66.86 L323.48 66.86 L323.79 66.86 L324.10 66.86 L324.42 66.86 L324.73 66.86 L325.04 66.86 L325.35 66.86 L325.67 66.86 L325.98 66.86 L326.29 66.86 L326.61 66.86 L326.92 66.86 L327.23 66.86 L327.54 66.86 L327.86 66.86 L328.17 66.86 L328.48 66.86 L328.79 66.86 L329.11 66.86 L329.42 66.86 L329.73 66.86 L330.04 66.86 L330.36 66.86 L330.67 66.86 L330.98 66.86 L331.30 66.86 L331.61 66.86 L331.92 66.86 L332.23 66.86 L332.55 66.86 L332.86 66.86 L333.17 66.86 L333.48 66.86 L333.80 66.86 L334.11 66.86 L334.42 66.86 L334.73 66.86 L335.05 66.86 L335.36 66.86 L335.67 66.86 L335.99 66.86 L336.30 66.86 L336.61 66.86 L336.92 66.86 L337.24 66.86 L337.55 66.86 L337.86 66.86 L338.17 66.86 L338.49 66.86 L338.80 66.86 L339.11 66.86 L339.42 66.86 L339.74 66.86 L340.05 66.86 L340.36 66.86 L340.68 66.86 L340.99 66.86 L341.30 66.86 L341.61 66.86 L341.93 66.86 L342.24 66.86 L342.55 66.86 L342.86 66.86 L343.18 66.86 L343.49 66.86 L343.80 66.86 L344.11 66.86 L344.43 66.86 L344.74 66.86 L345.05 66.86 L345.37 66.86 L345.68 66.92 L345.99 67.21 L346.17 67.55 L346.30 67.91 L346.44 68.37 L346.53 68.74 L346.62 69.17 L346.71 69.66 L346.79 70.20 L346.88 70.81 L346.93 71.14 L346.97 71.49 L347.02 71.85 L347.06 72.23 L347.11 72.63 L347.15 73.05 L347.20 73.49 L347.24 73.94 L347.29 74.42 L347.33 74.91 L347.38 75.43 L347.42 75.96 L347.46 76.52 L347.51 77.10 L347.55 77.70 L347.60 78.32 L347.64 78.96 L347.69 79.63 L347.73 80.31 L347.78 81.02 L347.82 81.76 L347.82 81.76 M347.87 82.51 L347.91 83.29 L347.96 84.10 L348.00 84.92 L348.05 85.78 L348.09 86.65 L348.13 87.55 L348.13 87.55 M348.18 88.48 L348.22 89.43 L348.27 90.41 L348.31 91.41 L348.36 92.44 L348.40 93.50 L348.45 94.58 L348.45 94.58 M348.54 96.83 L348.58 97.99 L348.63 99.18 L348.67 100.40 L348.72 101.65 L348.76 102.92 L348.80 104.23 L348.85 105.56 L348.89 106.92 L348.89 106.92 M348.98 109.72 L349.03 111.17 L349.07 112.65 L349.12 114.15 L349.16 115.69 L349.21 117.25 L349.25 118.85 L349.30 120.47 L349.34 122.13 L349.39 123.82 L349.39 123.82" fill="none" stroke="#D95319" stroke-width="3.0" stroke-linejoin="round"/>
<path d="M254.51 126.66 L254.83 126.66 L255.14 126.66 L255.45 126.66 L255.76 126.66 L256.08 126.66 L256.39 126.66 L256.70 126.66 L257.01 126.66 L257.33 126.66 L257.64 126.66 L257.95 126.66 L258.27 126.66 L258.58 126.66 L258.89 126.66 L259.20 126.66 L259.52 126.66 L259.83 126.66 L260.14 126.66 L260.45 126.66 L260.77 126.66 L261.08 126.66 L261.39 126.66 L261.70 126.66 L262.02 126.66 L262.33 126.66 L262.64 126.66 L262.96 126.66 L263.27 126.66 L263.58 126.66 L263.89 126.66 L264.21 126.66 L264.52 126.66 L264.83 126.66 L265.14 126.66 L265.46 126.66 L265.77 126.66 L266.08 126.66 L266.39 126.66 L266.71 126.66 L267.02 126.66 L267.33 126.66 L267.65 126.66 L267.96 126.66 L268.27 126.66 L268.58 126.66 L268.90 126.66 L269.21 126.66 L269.52 126.66 L269.83 126.66 L270.15 126.66 L270.46 126.66 L270.77 126.66 L271.08 126.66 L271.40 126.66 L271.71 126.66 L271.80 126.19 L271.84 125.21 L271.89 124.24 L271.93 123.28 L271.98 122.34 L272.02 121.41 L272.07 120.49 L272.11 119.59 L272.16 118.70 L272.20 117.82 L272.25 116.95 L272.29 116.10 L272.34 115.26 L272.38 114.42 L272.42 113.60 L272.47 112.80 L272.51 112.00 L272.56 111.21 L272.60 110.44 L272.65 109.67 L272.69 108.92 L272.74 108.18 L272.78 107.45 L272.83 106.72 L272.87 106.01 L272.92 105.31 L272.96 104.61 L273.01 103.93 L273.05 103.26 L273.09 102.59 L273.14 101.94 L273.18 101.29 L273.23 100.65 L273.27 100.03 L273.32 99.41 L273.36 98.80 L273.41 98.19 L273.45 97.60 L273.50 97.01 L273.54 96.44 L273.59 95.87 L273.63 95.30 L273.68 94.75 L273.72 94.20 L273.76 93.67 L273.81 93.13 L273.85 92.61 L273.90 92.09 L273.94 91.58 L273.99 91.08 L274.03 90.59 L274.08 90.10 L274.12 89.62 L274.17 89.14 L274.21 88.67 L274.26 88.21 L274.30 87.76 L274.35 87.31 L274.39 86.86 L274.43 86.43 L274.48 86.00 L274.52 85.57 L274.57 85.15 L274.61 84.74 L274.66 84.33 L274.70 83.93 L274.75 83.54 L274.79 83.14 L274.84 82.76 L274.88 82.38 L274.93 82.01 L274.97 81.64 L275.02 81.27 L275.06 80.91 L275.10 80.56 L275.15 80.21 L275.19 79.87 L275.24 79.53 L275.28 79.19 L275.33 78.86 L275.37 78.54 L275.42 78.21 L275.46 77.90 L275.51 77.59 L275.55 77.28 L275.60 76.97 L275.69 76.38 L275.77 75.80 L275.86 75.24 L275.95 74.69 L276.04 74.16 L276.13 73.64 L276.22 73.14 L276.31 72.65 L276.40 72.18 L276.49 71.71 L276.58 71.26 L276.67 70.83 L276.76 70.40 L276.85 69.99 L276.94 69.59 L277.03 69.20 L277.11 68.82 L277.20 68.45 L277.29 68.09 L277.38 67.74 L277.47 67.40 L277.56 67.07 L277.65 66.75 L277.74 66.43 L277.83 66.13 L277.96 65.69 L278.10 65.27 L278.23 64.86 L278.37 64.47 L278.50 64.10 L278.63 63.75 L278.77 63.40 L278.90 63.08 L279.04 62.76 L279.17 62.46 L279.35 62.08 L279.53 61.71 L279.71 61.37 L279.88 61.05 L280.06 60.74 L280.29 60.38 L280.51 60.05 L280.73 59.73 L281.00 59.39 L281.27 59.07 L281.58 58.73 L281.89 58.42 L282.21 58.14 L282.52 57.88 L282.83 57.65 L283.14 57.45 L283.46 57.26 L283.77 57.09 L284.08 56.93 L284.40 56.79 L284.71 56.66 L285.02 56.55 L285.33 56.44 L285.65 56.34 L285.96 56.26 L286.27 56.18 L286.58 56.11 L286.90 56.04 L287.21 55.99 L287.52 55.93 L287.83 55.88 L288.15 55.84 L288.46 55.80 L288.77 55.77 L289.09 55.73 L289.40 55.70 L289.71 55.68 L290.02 55.65 L290.34 55.63 L290.65 55.61 L290.96 55.59 L291.27 55.58 L291.59 55.56 L291.90 55.55 L292.21 55.54 L292.52 55.53 L292.84 55.52 L293.15 55.51 L293.46 55.50 L293.78 55.49 L294.09 55.48 L294.40 55.48 L294.71 55.47 L295.03 55.47 L295.34 55.46 L295.65 55.46 L295.96 55.45 L296.28 55.45 L296.59 55.45 L296.90 55.45 L297.21 55.44 L297.53 55.44 L297.84 55.44 L298.15 55.44 L298.47 55.43 L298.78 55.43 L299.09 55.43 L299.40 55.43 L299.72 55.43 L300.03 55.43 L300.34 55.43 L300.65 55.43 L300.97 55.43 L301.28 55.43 L301.59 55.42 L301.90 55.42 L302.22 55.42 L302.53 55.42 L302.84 55.42 L303.16 55.42 L303.47 55.42 L303.78 55.42 L304.09 55.42 L304.41 55.42 L304.72 55.42 L305.03 55.42 L305.34 55.42 L305.66 55.42 L305.97 55.42 L306.28 55.42 L306.59 55.42 L306.91 55.42 L307.22 55.42 L307.53 55.42 L307.85 55.42 L308.16 55.42 L308.47 55.42 L308.78 55.42 L309.10 55.42 L309.41 55.42 L309.72 55.42 L310.03 55.42 L310.35 55.42 L310.66 55.42 L310.97 55.42 L311.28 55.42 L311.60 55.42 L311.91 55.42 L312.22 55.42 L312.54 55.42 L312.85 55.42 L313.16 55.42 L313.47 55.42 L313.79 55.42 L314.10 55.42 L314.41 55.42 L314.72 55.42 L315.04 55.42 L315.35 55.42 L315.66 55.42 L315.97 55.42 L316.29 55.42 L316.60 55.42 L316.91 55.42 L317.23 55.42 L317.54 55.42 L317.85 55.42 L318.16 55.42 L318.48 55.42 L318.79 55.42 L319.10 55.42 L319.41 55.42 L319.73 55.42 L320.04 55.42 L320.35 55.42 L320.66 55.42 L320.98 55.42 L321.29 55.42 L321.60 55.42 L321.92 55.42 L322.23 55.42 L322.54 55.42 L322.85 55.42 L323.17 55.42 L323.48 55.42 L323.79 55.42 L324.10 55.42 L324.42 55.42 L324.73 55.42 L325.04 55.42 L325.35 55.42 L325.67 55.42 L325.98 55.42 L326.29 55.42 L326.61 55.42 L326.92 55.42 L327.23 55.42 L327.54 55.42 L327.86 55.42 L328.17 55.42 L328.48 55.42 L328.79 55.42 L329.11 55.42 L329.42 55.42 L329.73 55.42 L330.04 55.42 L330.36 55.42 L330.67 55.42 L330.98 55.42 L331.30 55.42 L331.61 55.42 L331.92 55.42 L332.23 55.42 L332.55 55.42 L332.86 55.42 L333.17 55.42 L333.48 55.42 L333.80 55.42 L334.11 55.42 L334.42 55.42 L334.73 55.42 L335.05 55.42 L335.36 55.42 L335.67 55.42 L335.99 55.42 L336.30 55.42 L336.61 55.42 L336.92 55.42 L337.24 55.42 L337.55 55.42 L337.86 55.42 L338.17 55.42 L338.49 55.42 L338.80 55.42 L339.11 55.42 L339.42 55.42 L339.74 55.42 L340.05 55.42 L340.36 55.42 L340.68 55.42 L340.99 55.42 L341.30 55.42 L341.61 55.42 L341.93 55.42 L342.24 55.42 L342.55 55.42 L342.86 55.43 L343.18 55.43 L343.49 55.43 L343.80 55.44 L344.11 55.45 L344.43 55.46 L344.74 55.47 L345.05 55.50 L345.37 55.53 L345.68 55.64 L345.99 56.00 L346.17 56.39 L346.30 56.79 L346.39 57.12 L346.48 57.50 L346.57 57.94 L346.66 58.44 L346.75 59.00 L346.79 59.31 L346.84 59.63 L346.88 59.98 L346.93 60.34 L346.97 60.71 L347.02 61.11 L347.06 61.53 L347.11 61.96 L347.15 62.42 L347.20 62.90 L347.24 63.40 L347.29 63.92 L347.33 64.46 L347.38 65.02 L347.42 65.61 L347.46 66.22 L347.51 66.85 L347.55 67.51 L347.60 68.19 L347.64 68.89 L347.69 69.62 L347.73 70.38 L347.78 71.16 L347.82 71.97 L347.87 72.80 L347.91 73.67 L347.96 74.56 L348.00 75.47 L348.05 76.42 L348.09 77.39 L348.13 78.39 L348.18 79.43 L348.22 80.49 L348.27 81.58 L348.31 82.70 L348.36 83.85 L348.40 85.03 L348.45 86.25 L348.49 87.50 L348.54 88.77 L348.58 90.08 L348.63 91.43 L348.67 92.80 L348.72 94.21 L348.76 95.65 L348.80 97.13 L348.85 98.64 L348.89 100.18 L348.94 101.76 L348.98 103.38 L349.03 105.02 L349.07 106.71 L349.12 108.42 L349.16 110.18 L349.21 111.97 L349.25 113.79 L349.30 115.65 L349.34 117.54 L349.39 119.47 L349.43 121.44 L349.47 123.44 L349.52 125.47 L349.56 126.66 L349.88 126.66 L350.19 126.66 L350.50 126.66 L350.81 126.66 L351.13 126.66 L351.44 126.66 L351.75 126.66 L352.07 126.66 L352.38 126.66 L352.69 126.66 L353.00 126.66 L353.32 126.66 L353.63 126.66 L353.94 126.66 L354.25 126.66 L354.57 126.66 L354.88 126.66 L355.19 126.66 L355.50 126.66 L355.82 126.66 L356.13 126.66 L356.44 126.66 L356.76 126.66 L357.07 126.66 L357.38 126.66 L357.69 126.66 L358.01 126.66 L358.32 126.66 L358.63 126.66 L358.94 126.66 L359.26 126.66 L359.57 126.66 L359.88 126.66 L360.19 126.66 L360.51 126.66 L360.82 126.66 L361.13 126.66 L361.45 126.66 L361.76 126.66 L362.07 126.66 L362.38 126.66 L362.70 126.66 L363.01 126.66 L363.32 126.66 L363.63 126.66 L363.95 126.66 L364.26 126.66 L364.57 126.66 L364.88 126.66 L365.20 126.66 L365.29 126.66" fill="none" stroke="#EDB120" stroke-width="3.0" stroke-linejoin="round"/>
</g>
<rect x="256.3" y="39.6" width="107.19999999999999" height="53.4" fill="none" stroke="#1c1c1c" stroke-width="1.7"/>
<line x1="258.09" y1="93.0" x2="258.09" y2="90.9" stroke="#000" stroke-width="1.2"/>
<line x1="258.09" y1="39.6" x2="258.09" y2="41.7" stroke="#000" stroke-width="1.2"/>
<text x="258.09" y="105.0" font-family="'Liberation Serif', serif" font-size="11.7" fill="#262626" text-anchor="middle">1.2</text>
<line x1="275.95" y1="93.0" x2="275.95" y2="90.9" stroke="#000" stroke-width="1.2"/>
<line x1="275.95" y1="39.6" x2="275.95" y2="41.7" stroke="#000" stroke-width="1.2"/>
<text x="275.95" y="105.0" font-family="'Liberation Serif', serif" font-size="11.7" fill="#262626" text-anchor="middle">1.4</text>
<line x1="293.82" y1="93.0" x2="293.82" y2="90.9" stroke="#000" stroke-width="1.2"/>
<line x1="293.82" y1="39.6" x2="293.82" y2="41.7" stroke="#000" stroke-width="1.2"/>
<text x="293.82" y="105.0" font-family="'Liberation Serif', serif" font-size="11.7" fill="#262626" text-anchor="middle">1.6</text>
<line x1="311.69" y1="93.0" x2="311.69" y2="90.9" stroke="#000" stroke-width="1.2"/>
<line x1="311.69" y1="39.6" x2="311.69" y2="41.7" stroke="#000" stroke-width="1.2"/>
<text x="311.69" y="105.0" font-family="'Liberation Serif', serif" font-size="11.7" fill="#262626" text-anchor="middle">1.8</text>
<line x1="329.55" y1="93.0" x2="329.55" y2="90.9" stroke="#000" stroke-width="1.2"/>
<line x1="329.55" y1="39.6" x2="329.55" y2="41.7" stroke="#000" stroke-width="1.2"/>
<text x="329.55" y="105.0" font-family="'Liberation Serif', serif" font-size="11.7" fill="#262626" text-anchor="middle">2</text>
<line x1="347.42" y1="93.0" x2="347.42" y2="90.9" stroke="#000" stroke-width="1.2"/>
<line x1="347.42" y1="39.6" x2="347.42" y2="41.7" stroke="#000" stroke-width="1.2"/>
<text x="347.42" y="105.0" font-family="'Liberation Serif', serif" font-size="11.7" fill="#262626" text-anchor="middle">2.2</text>
<line x1="256.3" y1="89.30" x2="258.40000000000003" y2="89.30" stroke="#000" stroke-width="1.2"/>
<line x1="363.5" y1="89.30" x2="361.4" y2="89.30" stroke="#000" stroke-width="1.2"/>
<text x="253.90" y="93.20" font-family="'Liberation Serif', serif" font-size="11.7" fill="#262626" text-anchor="end">99.8</text>
<line x1="256.3" y1="66.86" x2="258.40000000000003" y2="66.86" stroke="#000" stroke-width="1.2"/>
<line x1="363.5" y1="66.86" x2="361.4" y2="66.86" stroke="#000" stroke-width="1.2"/>
<text x="253.90" y="70.76" font-family="'Liberation Serif', serif" font-size="11.7" fill="#262626" text-anchor="end">100</text>
<line x1="256.3" y1="44.42" x2="258.40000000000003" y2="44.42" stroke="#000" stroke-width="1.2"/>
<line x1="363.5" y1="44.42" x2="361.4" y2="44.42" stroke="#000" stroke-width="1.2"/>
<text x="253.90" y="48.32" font-family="'Liberation Serif', serif" font-size="11.7" fill="#262626" text-anchor="end">100.2</text>
<clipPath id="c1"><rect x="105.8" y="222.0" width="107.7" height="53.19999999999999"/></clipPath>
<rect x="105.8" y="222.0" width="107.7" height="53.19999999999999" fill="#e8e8e8"/>
<line x1="114.37" y1="222.0" x2="114.37" y2="275.2" stroke="#f2f2f2" stroke-width="1"/>
<line x1="148.67" y1="222.0" x2="148.67" y2="275.2" stroke="#f2f2f2" stroke-width="1"/>
<line x1="182.97" y1="222.0" x2="182.97" y2="275.2" stroke="#f2f2f2" stroke-width="1"/>
<line x1="105.8" y1="270.53" x2="213.5" y2="270.53" stroke="#f2f2f2" stroke-width="1"/>
<line x1="105.8" y1="248.27" x2="213.5" y2="248.27" stroke="#f2f2f2" stroke-width="1"/>
<line x1="105.8" y1="226.01" x2="213.5" y2="226.01" stroke="#f2f2f2" stroke-width="1"/>
<g clip-path="url(#c1)">
<path d="M111.87 188.78 L111.91 191.01 L111.94 193.19 L111.97 195.33 L112.01 197.42 L112.04 199.48 L112.08 201.49 L112.11 203.46 L112.15 205.39 L112.18 207.27 L112.21 209.11 L112.25 210.91 L112.28 212.67 L112.32 214.39 L112.35 216.06 L112.39 217.69 L112.42 219.28 L112.45 220.82 L112.49 222.33 L112.52 223.79 L112.56 225.21 L112.59 226.58 L112.63 227.92 L112.66 229.21 L112.69 230.46 L112.73 231.66 L112.76 232.83 L112.80 233.95 L112.83 235.03 L112.87 236.07 L112.90 237.06 L112.93 238.02 L112.97 238.93 L113.00 239.80 L113.04 240.62 L113.07 241.41 L113.11 242.15 L113.14 242.85 L113.17 243.50 L113.21 244.12 L113.24 244.69 L113.28 245.22 L113.31 245.70 L113.35 246.15 L113.38 246.55 L113.41 246.91 L113.45 247.23 L113.52 247.74 L113.59 248.08 L113.89 248.27 L114.20 248.27 L114.51 248.27 L114.82 248.27 L115.13 248.27 L115.44 248.27 L115.75 248.27 L116.06 248.27 L116.36 248.27 L116.67 248.27 L116.98 248.27 L117.29 248.27 L117.60 248.27 L117.91 248.27 L118.22 248.27 L118.53 248.27 L118.83 248.27 L119.14 248.27 L119.45 248.27 L119.76 248.27 L120.07 248.27 L120.38 248.27 L120.65 248.27 M121.65 248.27 L121.95 248.27 L122.26 248.27 L122.57 248.27 L122.88 248.27 L123.19 248.27 L123.50 248.27 L123.81 248.27 L124.12 248.27 L124.42 248.27 L124.73 248.27 L125.04 248.27 L125.35 248.27 L125.66 248.27 L125.97 248.27 L126.28 248.27 L126.59 248.27 L126.89 248.27 L127.20 248.27 L127.51 248.27 L127.82 248.27 L128.13 248.27 L128.44 248.27 L128.75 248.27 L128.78 248.27 M203.00 248.60 L203.07 249.03 L203.14 249.62 L203.18 249.98 L203.21 250.38 L203.24 250.83 L203.28 251.32 L203.31 251.84 L203.35 252.42 L203.38 253.03 L203.42 253.69 L203.45 254.39 L203.48 255.13 L203.52 255.91 L203.55 256.74 L203.59 257.60 L203.62 258.51 L203.66 259.47 L203.66 259.47 M203.69 260.46 L203.72 261.50 L203.76 262.58 L203.79 263.70 L203.83 264.87 L203.86 266.07 L203.90 267.32 L203.93 268.62 L203.96 269.95 L204.00 271.33 L204.03 272.74 L204.07 274.21 L204.10 275.71 L204.14 277.26 L204.17 278.84 L204.20 280.47 L204.24 282.15 L204.27 283.86 L204.31 285.62 L204.34 287.42 L204.38 289.26 L204.41 291.15 L204.44 293.07 L204.48 295.04 L204.51 297.05 L204.55 299.11 L204.58 301.20 L204.62 303.34 L204.65 305.52 L204.69 307.75 L204.72 308.59 L205.03 308.59 L205.34 308.59 L205.65 308.59 L205.82 308.59" fill="none" stroke="#0072BD" stroke-width="3.0" stroke-linejoin="round"/>
<path d="M117.05 188.61 L117.12 189.73 L117.15 190.54 L117.19 191.34 L117.22 192.13 L117.26 192.91 L117.29 193.68 L117.32 194.44 L117.36 195.19 L117.36 195.19 M117.39 195.92 L117.43 196.65 L117.46 197.37 L117.50 198.07 L117.53 198.77 L117.56 199.46 L117.60 200.14 L117.63 200.81 L117.67 201.46 L117.70 202.11 L117.74 202.76 L117.77 203.39 L117.80 204.01 L117.84 204.63 L117.87 205.23 L117.91 205.83 L117.94 206.42 L117.98 207.00 L118.01 207.57 L118.04 208.14 L118.08 208.70 L118.11 209.25 L118.15 209.79 L118.18 210.32 L118.22 210.85 L118.25 211.37 L118.28 211.88 L118.32 212.39 L118.35 212.88 L118.39 213.38 L118.42 213.86 L118.46 214.34 L118.49 214.81 L118.53 215.27 L118.56 215.73 L118.59 216.18 L118.63 216.63 L118.66 217.07 L118.70 217.50 L118.73 217.93 L118.77 218.35 L118.80 218.77 L118.83 219.18 L118.87 219.58 L118.90 219.98 L118.94 220.37 L118.97 220.76 L119.01 221.14 L119.04 221.52 L119.07 221.89 L119.11 222.26 L119.14 222.62 L119.18 222.97 L119.21 223.32 L119.25 223.67 L119.28 224.01 L119.31 224.35 L119.35 224.68 L119.38 225.01 L119.42 225.33 L119.45 225.65 L119.49 225.96 L119.52 226.27 L119.55 226.58 L119.59 226.88 L119.66 227.47 L119.73 228.04 L119.79 228.60 L119.86 229.14 L119.93 229.67 L120.00 230.19 L120.07 230.68 L120.14 231.17 L120.21 231.64 L120.27 232.10 L120.34 232.55 L120.41 232.98 L120.48 233.40 L120.55 233.81 L120.62 234.21 L120.69 234.60 L120.75 234.97 L120.82 235.34 L120.89 235.70 L120.96 236.04 L121.03 236.38 L121.10 236.71 L121.17 237.03 L121.23 237.34 L121.30 237.64 L121.41 238.08 L121.51 238.49 L121.61 238.90 L121.71 239.28 L121.82 239.65 L121.92 240.00 L122.02 240.34 L122.13 240.67 L122.23 240.98 L122.37 241.38 L122.50 241.75 L122.64 242.11 L122.78 242.44 L122.92 242.76 L123.09 243.13 L123.26 243.48 L123.43 243.80 L123.60 244.10 L123.81 244.44 L124.01 244.75 L124.25 245.07 L124.53 245.41 L124.80 245.71 L125.11 246.02 L125.42 246.28 L125.73 246.52 L126.04 246.72 L126.35 246.91 L126.65 247.07 L126.96 247.21 L127.27 247.33 L127.58 247.44 L127.89 247.54 L128.20 247.63 L128.51 247.70 L128.81 247.77 L129.12 247.83 L129.43 247.88 L129.74 247.93 L130.05 247.97 L130.36 248.00 L130.67 248.03 L130.98 248.06 L131.28 248.08 L131.59 248.11 L131.90 248.13 L132.21 248.14 L132.52 248.16 L132.83 248.17 L133.14 248.18 L133.45 248.19 L133.75 248.20 L134.06 248.21 L134.37 248.21 L134.68 248.22 L134.99 248.23 L135.30 248.23 L135.61 248.23 L135.91 248.24 L136.22 248.24 L136.53 248.24 L136.84 248.25 L137.15 248.25 L137.46 248.25 L137.77 248.25 L138.08 248.25 L138.38 248.26 L138.69 248.26 L139.00 248.26 L139.31 248.26 L139.62 248.26 L139.93 248.26 L140.24 248.26 L140.55 248.26 L140.85 248.26 L141.16 248.26 L141.47 248.26 L141.78 248.26 L142.09 248.26 L142.40 248.26 L142.71 248.26 L143.01 248.26 L143.32 248.26 L143.63 248.26 L143.94 248.27 L144.25 248.27 L144.56 248.27 L144.87 248.27 L145.18 248.27 L145.48 248.27 L145.79 248.27 L146.10 248.27 L146.41 248.27 L146.72 248.27 L147.03 248.27 L147.34 248.27 L147.65 248.27 L147.95 248.27 L148.26 248.27 L148.57 248.27 L148.88 248.27 L149.19 248.27 L149.50 248.27 L149.81 248.27 L150.11 248.27 L150.42 248.27 L150.73 248.27 L151.04 248.27 L151.35 248.27 L151.66 248.27 L151.97 248.27 L152.28 248.27 L152.58 248.27 L152.89 248.27 L153.20 248.27 L153.51 248.27 L153.82 248.27 L154.13 248.27 L154.44 248.27 L154.75 248.27 L155.05 248.27 L155.36 248.27 L155.67 248.27 L155.98 248.27 L156.29 248.27 L156.60 248.27 L156.91 248.27 L157.21 248.27 L157.52 248.27 L157.83 248.27 L158.14 248.27 L158.45 248.27 L158.76 248.27 L159.07 248.27 L159.38 248.27 L159.68 248.27 L159.99 248.27 L160.30 248.27 L160.61 248.27 L160.92 248.27 L161.23 248.27 L161.54 248.27 L161.85 248.27 L162.15 248.27 L162.46 248.27 L162.77 248.27 L163.08 248.27 L163.39 248.27 L163.70 248.27 L164.01 248.27 L164.31 248.27 L164.62 248.27 L164.93 248.27 L165.24 248.27 L165.55 248.27 L165.86 248.27 L166.17 248.27 L166.48 248.27 L166.78 248.27 L167.09 248.27 L167.40 248.27 L167.71 248.27 L168.02 248.27 L168.33 248.27 L168.64 248.27 L168.95 248.27 L169.25 248.27 L169.56 248.27 L169.87 248.27 L170.18 248.27 L170.49 248.27 L170.80 248.27 L171.11 248.27 L171.41 248.27 L171.72 248.27 L172.03 248.27 L172.34 248.27 L172.65 248.27 L172.96 248.27 L173.27 248.27 L173.58 248.27 L173.88 248.27 L174.19 248.27 L174.50 248.27 L174.81 248.27 L175.12 248.27 L175.43 248.27 L175.74 248.27 L176.05 248.27 L176.35 248.27 L176.66 248.27 L176.97 248.27 L177.28 248.27 L177.59 248.27 L177.90 248.27 L178.21 248.27 L178.51 248.27 L178.82 248.27 L179.13 248.27 L179.44 248.27 L179.75 248.27 L180.06 248.27 L180.37 248.27 L180.68 248.27 L180.98 248.27 L181.29 248.27 L181.60 248.27 L181.91 248.27 L182.22 248.27 L182.53 248.27 L182.84 248.27 L183.15 248.27 L183.45 248.27 L183.76 248.27 L184.07 248.27 L184.38 248.27 L184.69 248.27 L185.00 248.27 L185.31 248.27 L185.61 248.27 L185.92 248.27 L186.23 248.27 L186.54 248.27 L186.85 248.27 L187.16 248.27 L187.47 248.27 L187.78 248.27 L188.08 248.27 L188.39 248.27 L188.70 248.27 L189.01 248.27 L189.32 248.27 L189.63 248.27 L189.94 248.27 L190.25 248.27 L190.55 248.27 L190.86 248.27 L191.17 248.27 L191.48 248.27 L191.79 248.27 L192.10 248.27 L192.41 248.27 L192.71 248.27 L193.02 248.27 L193.33 248.27 L193.64 248.27 L193.95 248.27 L194.26 248.27 L194.57 248.27 L194.88 248.27 L195.18 248.27 L195.49 248.27 L195.80 248.27 L196.11 248.27 L196.42 248.27 L196.73 248.27 L197.04 248.27 L197.34 248.27 L197.65 248.27 L197.96 248.27 L198.27 248.27 L198.58 248.27 L198.89 248.27 L199.20 248.27 L199.51 248.27 L199.81 248.27 L200.12 248.27 L200.43 248.27 L200.74 248.27 L201.05 248.27 L201.36 248.27 L201.67 248.27 L201.98 248.27 L202.28 248.27 L202.59 248.27 L202.90 248.27 L203.21 248.27 L203.52 248.29 L203.83 248.61 L203.96 248.95 L204.07 249.31 L204.17 249.77 L204.24 250.14 L204.31 250.56 L204.38 251.04 L204.44 251.58 L204.51 252.18 L204.55 252.51 L204.58 252.85 L204.62 253.22 L204.65 253.59 L204.69 253.99 L204.72 254.41 L204.75 254.84 L204.79 255.29 L204.82 255.76 L204.86 256.25 L204.89 256.77 L204.93 257.30 L204.96 257.85 L204.99 258.42 L205.03 259.02 L205.06 259.63 L205.10 260.27 L205.13 260.93 L205.17 261.61 L205.20 262.32 L205.23 263.04 L205.27 263.79 L205.30 264.57 L205.34 265.36 L205.37 266.19 L205.41 267.03 L205.44 267.90 L205.47 268.80 L205.51 269.71 L205.54 270.66 L205.58 271.63 L205.58 271.63 M205.58 271.63 L205.61 272.63 L205.65 273.65 L205.68 274.69 L205.71 275.77 L205.71 275.77 M205.75 276.87 L205.78 278.00 L205.82 279.15 L205.85 280.33 L205.89 281.54 L205.92 282.78 L205.92 282.78 M205.99 285.33 L206.02 286.66 L206.06 288.00 L206.09 289.38 L206.13 290.79 L206.16 292.22 L206.19 293.69 L206.23 295.18 L206.23 295.18 M206.30 298.26 L206.33 299.84 L206.37 301.46 L206.40 303.10 L206.43 304.77 L206.47 306.48 L206.50 308.21 L206.50 308.21" fill="none" stroke="#D95319" stroke-width="3.0" stroke-linejoin="round"/>
<path d="M104.43 188.61 L104.74 188.61 L105.05 188.61 L105.35 188.61 L105.66 188.61 L105.97 188.61 L106.28 188.61 L106.59 188.61 L106.90 188.61 L107.21 188.61 L107.51 188.61 L107.82 188.61 L108.13 188.61 L108.44 188.61 L108.75 188.61 L109.06 188.61 L109.37 188.61 L109.68 188.61 L109.98 188.61 L110.29 188.61 L110.60 188.61 L110.91 188.61 L111.22 188.61 L111.53 188.61 L111.84 188.61 L112.15 188.61 L112.45 188.61 L112.76 188.61 L113.07 188.61 L113.38 188.61 L113.69 188.61 L114.00 188.61 L114.31 188.61 L114.61 188.61 L114.92 188.61 L115.23 188.61 L115.54 188.61 L115.85 188.61 L116.16 188.61 L116.47 188.61 L116.67 189.41 L116.71 190.38 L116.74 191.34 L116.78 192.29 L116.81 193.23 L116.84 194.15 L116.88 195.06 L116.91 195.95 L116.95 196.84 L116.98 197.71 L117.02 198.57 L117.05 199.42 L117.08 200.25 L117.12 201.08 L117.15 201.89 L117.19 202.69 L117.22 203.48 L117.26 204.26 L117.29 205.03 L117.32 205.79 L117.36 206.54 L117.39 207.28 L117.43 208.00 L117.46 208.72 L117.50 209.43 L117.53 210.12 L117.56 210.81 L117.60 211.49 L117.63 212.16 L117.67 212.82 L117.70 213.47 L117.74 214.11 L117.77 214.74 L117.80 215.36 L117.84 215.98 L117.87 216.58 L117.91 217.18 L117.94 217.77 L117.98 218.35 L118.01 218.93 L118.04 219.49 L118.08 220.05 L118.11 220.60 L118.15 221.14 L118.18 221.67 L118.22 222.20 L118.25 222.72 L118.28 223.23 L118.32 223.74 L118.35 224.24 L118.39 224.73 L118.42 225.21 L118.46 225.69 L118.49 226.16 L118.53 226.63 L118.56 227.08 L118.59 227.54 L118.63 227.98 L118.66 228.42 L118.70 228.85 L118.73 229.28 L118.77 229.70 L118.80 230.12 L118.83 230.53 L118.87 230.93 L118.90 231.33 L118.94 231.72 L118.97 232.11 L119.01 232.49 L119.04 232.87 L119.07 233.24 L119.11 233.61 L119.14 233.97 L119.18 234.33 L119.21 234.68 L119.25 235.02 L119.28 235.36 L119.31 235.70 L119.35 236.03 L119.38 236.36 L119.42 236.68 L119.45 237.00 L119.49 237.32 L119.52 237.63 L119.55 237.93 L119.59 238.23 L119.66 238.82 L119.73 239.40 L119.79 239.95 L119.86 240.50 L119.93 241.02 L120.00 241.54 L120.07 242.04 L120.14 242.52 L120.21 242.99 L120.27 243.45 L120.34 243.90 L120.41 244.33 L120.48 244.75 L120.55 245.16 L120.62 245.56 L120.69 245.95 L120.75 246.33 L120.82 246.69 L120.89 247.05 L120.96 247.40 L121.03 247.73 L121.10 248.06 L121.17 248.38 L121.23 248.69 L121.30 248.99 L121.41 249.43 L121.51 249.85 L121.61 250.25 L121.71 250.63 L121.82 251.00 L121.92 251.36 L122.02 251.70 L122.13 252.02 L122.23 252.33 L122.37 252.73 L122.50 253.11 L122.64 253.46 L122.78 253.79 L122.92 254.11 L123.09 254.48 L123.26 254.83 L123.43 255.15 L123.60 255.46 L123.81 255.79 L124.01 256.10 L124.25 256.43 L124.53 256.76 L124.80 257.07 L125.11 257.37 L125.42 257.63 L125.73 257.87 L126.04 258.08 L126.35 258.26 L126.65 258.42 L126.96 258.56 L127.27 258.69 L127.58 258.80 L127.89 258.89 L128.20 258.98 L128.51 259.05 L128.81 259.12 L129.12 259.18 L129.43 259.23 L129.74 259.28 L130.05 259.32 L130.36 259.35 L130.67 259.38 L130.98 259.41 L131.28 259.44 L131.59 259.46 L131.90 259.48 L132.21 259.49 L132.52 259.51 L132.83 259.52 L133.14 259.53 L133.45 259.54 L133.75 259.55 L134.06 259.56 L134.37 259.57 L134.68 259.57 L134.99 259.58 L135.30 259.58 L135.61 259.59 L135.91 259.59 L136.22 259.59 L136.53 259.60 L136.84 259.60 L137.15 259.60 L137.46 259.60 L137.77 259.61 L138.08 259.61 L138.38 259.61 L138.69 259.61 L139.00 259.61 L139.31 259.61 L139.62 259.61 L139.93 259.61 L140.24 259.61 L140.55 259.61 L140.85 259.61 L141.16 259.62 L141.47 259.62 L141.78 259.62 L142.09 259.62 L142.40 259.62 L142.71 259.62 L143.01 259.62 L143.32 259.62 L143.63 259.62 L143.94 259.62 L144.25 259.62 L144.56 259.62 L144.87 259.62 L145.18 259.62 L145.48 259.62 L145.79 259.62 L146.10 259.62 L146.41 259.62 L146.72 259.62 L147.03 259.62 L147.34 259.62 L147.65 259.62 L147.95 259.62 L148.26 259.62 L148.57 259.62 L148.88 259.62 L149.19 259.62 L149.50 259.62 L149.81 259.62 L150.11 259.62 L150.42 259.62 L150.73 259.62 L151.04 259.62 L151.35 259.62 L151.66 259.62 L151.97 259.62 L152.28 259.62 L152.58 259.62 L152.89 259.62 L153.20 259.62 L153.51 259.62 L153.82 259.62 L154.13 259.62 L154.44 259.62 L154.75 259.62 L155.05 259.62 L155.36 259.62 L155.67 259.62 L155.98 259.62 L156.29 259.62 L156.60 259.62 L156.91 259.62 L157.21 259.62 L157.52 259.62 L157.83 259.62 L158.14 259.62 L158.45 259.62 L158.76 259.62 L159.07 259.62 L159.38 259.62 L159.68 259.62 L159.99 259.62 L160.30 259.62 L160.61 259.62 L160.92 259.62 L161.23 259.62 L161.54 259.62 L161.85 259.62 L162.15 259.62 L162.46 259.62 L162.77 259.62 L163.08 259.62 L163.39 259.62 L163.70 259.62 L164.01 259.62 L164.31 259.62 L164.62 259.62 L164.93 259.62 L165.24 259.62 L165.55 259.62 L165.86 259.62 L166.17 259.62 L166.48 259.62 L166.78 259.62 L167.09 259.62 L167.40 259.62 L167.71 259.62 L168.02 259.62 L168.33 259.62 L168.64 259.62 L168.95 259.62 L169.25 259.62 L169.56 259.62 L169.87 259.62 L170.18 259.62 L170.49 259.62 L170.80 259.62 L171.11 259.62 L171.41 259.62 L171.72 259.62 L172.03 259.62 L172.34 259.62 L172.65 259.62 L172.96 259.62 L173.27 259.62 L173.58 259.62 L173.88 259.62 L174.19 259.62 L174.50 259.62 L174.81 259.62 L175.12 259.62 L175.43 259.62 L175.74 259.62 L176.05 259.62 L176.35 259.62 L176.66 259.62 L176.97 259.62 L177.28 259.62 L177.59 259.62 L177.90 259.62 L178.21 259.62 L178.51 259.62 L178.82 259.62 L179.13 259.62 L179.44 259.62 L179.75 259.62 L180.06 259.62 L180.37 259.62 L180.68 259.62 L180.98 259.62 L181.29 259.62 L181.60 259.62 L181.91 259.62 L182.22 259.62 L182.53 259.62 L182.84 259.62 L183.15 259.62 L183.45 259.62 L183.76 259.62 L184.07 259.62 L184.38 259.62 L184.69 259.62 L185.00 259.62 L185.31 259.62 L185.61 259.62 L185.92 259.62 L186.23 259.62 L186.54 259.62 L186.85 259.62 L187.16 259.62 L187.47 259.62 L187.78 259.62 L188.08 259.62 L188.39 259.62 L188.70 259.62 L189.01 259.62 L189.32 259.62 L189.63 259.62 L189.94 259.62 L190.25 259.62 L190.55 259.62 L190.86 259.62 L191.17 259.62 L191.48 259.62 L191.79 259.62 L192.10 259.62 L192.41 259.62 L192.71 259.62 L193.02 259.62 L193.33 259.62 L193.64 259.62 L193.95 259.62 L194.26 259.62 L194.57 259.62 L194.88 259.62 L195.18 259.62 L195.49 259.62 L195.80 259.62 L196.11 259.62 L196.42 259.62 L196.73 259.62 L197.04 259.62 L197.34 259.62 L197.65 259.62 L197.96 259.62 L198.27 259.62 L198.58 259.62 L198.89 259.62 L199.20 259.62 L199.51 259.62 L199.81 259.62 L200.12 259.62 L200.43 259.62 L200.74 259.62 L201.05 259.62 L201.36 259.62 L201.67 259.62 L201.98 259.62 L202.28 259.62 L202.59 259.62 L202.90 259.62 L203.21 259.62 L203.52 259.64 L203.83 259.97 L203.96 260.30 L204.07 260.66 L204.17 261.12 L204.24 261.49 L204.31 261.91 L204.38 262.39 L204.44 262.93 L204.51 263.54 L204.55 263.86 L204.58 264.21 L204.62 264.57 L204.65 264.95 L204.69 265.34 L204.72 265.76 L204.75 266.19 L204.79 266.64 L204.82 267.12 L204.86 267.61 L204.89 268.12 L204.93 268.65 L204.96 269.20 L204.99 269.77 L205.03 270.37 L205.06 270.98 L205.10 271.62 L205.13 272.28 L205.17 272.96 L205.20 273.67 L205.23 274.39 L205.27 275.15 L205.30 275.92 L205.34 276.72 L205.37 277.54 L205.41 278.38 L205.44 279.25 L205.47 280.15 L205.51 281.07 L205.54 282.01 L205.58 282.98 L205.61 283.98 L205.65 285.00 L205.68 286.05 L205.71 287.12 L205.75 288.22 L205.78 289.35 L205.82 290.50 L205.85 291.68 L205.89 292.89 L205.92 294.13 L205.95 295.39 L205.99 296.69 L206.02 298.01 L206.06 299.36 L206.09 300.73 L206.13 302.14 L206.16 303.58 L206.19 305.04 L206.23 306.53 L206.26 308.06 L206.30 308.59 L206.61 308.59 L206.91 308.59 L207.22 308.59 L207.53 308.59 L207.84 308.59 L208.15 308.59 L208.46 308.59 L208.77 308.59 L209.08 308.59 L209.38 308.59 L209.69 308.59 L210.00 308.59 L210.31 308.59 L210.62 308.59 L210.93 308.59 L211.24 308.59 L211.54 308.59 L211.85 308.59 L212.16 308.59 L212.47 308.59 L212.78 308.59 L213.09 308.59 L213.40 308.59 L213.71 308.59 L214.01 308.59 L214.32 308.59 L214.63 308.59 L214.87 308.59" fill="none" stroke="#EDB120" stroke-width="3.0" stroke-linejoin="round"/>
</g>
<rect x="105.8" y="222.0" width="107.7" height="53.19999999999999" fill="none" stroke="#1c1c1c" stroke-width="1.7"/>
<line x1="114.37" y1="275.2" x2="114.37" y2="273.09999999999997" stroke="#000" stroke-width="1.2"/>
<line x1="114.37" y1="222.0" x2="114.37" y2="224.1" stroke="#000" stroke-width="1.2"/>
<text x="114.37" y="287.2" font-family="'Liberation Serif', serif" font-size="11.7" fill="#262626" text-anchor="middle">3</text>
<line x1="148.67" y1="275.2" x2="148.67" y2="273.09999999999997" stroke="#000" stroke-width="1.2"/>
<line x1="148.67" y1="222.0" x2="148.67" y2="224.1" stroke="#000" stroke-width="1.2"/>
<text x="148.67" y="287.2" font-family="'Liberation Serif', serif" font-size="11.7" fill="#262626" text-anchor="middle">3.5</text>
<line x1="182.97" y1="275.2" x2="182.97" y2="273.09999999999997" stroke="#000" stroke-width="1.2"/>
<line x1="182.97" y1="222.0" x2="182.97" y2="224.1" stroke="#000" stroke-width="1.2"/>
<text x="182.97" y="287.2" font-family="'Liberation Serif', serif" font-size="11.7" fill="#262626" text-anchor="middle">4</text>
<line x1="105.8" y1="270.53" x2="107.89999999999999" y2="270.53" stroke="#000" stroke-width="1.2"/>
<line x1="213.5" y1="270.53" x2="211.4" y2="270.53" stroke="#000" stroke-width="1.2"/>
<text x="103.40" y="274.43" font-family="'Liberation Serif', serif" font-size="11.7" fill="#262626" text-anchor="end"><tspan font-size="13.45" dy="0.9">−</tspan><tspan dy="-0.9" dx="0.7">0.2</tspan></text>
<line x1="105.8" y1="248.27" x2="107.89999999999999" y2="248.27" stroke="#000" stroke-width="1.2"/>
<line x1="213.5" y1="248.27" x2="211.4" y2="248.27" stroke="#000" stroke-width="1.2"/>
<text x="103.40" y="252.17" font-family="'Liberation Serif', serif" font-size="11.7" fill="#262626" text-anchor="end">0</text>
<line x1="105.8" y1="226.01" x2="107.89999999999999" y2="226.01" stroke="#000" stroke-width="1.2"/>
<line x1="213.5" y1="226.01" x2="211.4" y2="226.01" stroke="#000" stroke-width="1.2"/>
<text x="103.40" y="229.91" font-family="'Liberation Serif', serif" font-size="11.7" fill="#262626" text-anchor="end">0.2</text>
<clipPath id="c2"><rect x="223.8" y="318.6" width="106.69999999999999" height="53.19999999999999"/></clipPath>
<rect x="223.8" y="318.6" width="106.69999999999999" height="53.19999999999999" fill="#e8e8e8"/>
<line x1="227.62" y1="318.6" x2="227.62" y2="371.8" stroke="#f2f2f2" stroke-width="1"/>
<line x1="272.00" y1="318.6" x2="272.00" y2="371.8" stroke="#f2f2f2" stroke-width="1"/>
<line x1="316.39" y1="318.6" x2="316.39" y2="371.8" stroke="#f2f2f2" stroke-width="1"/>
<line x1="223.8" y1="365.98" x2="330.5" y2="365.98" stroke="#f2f2f2" stroke-width="1"/>
<line x1="223.8" y1="343.81" x2="330.5" y2="343.81" stroke="#f2f2f2" stroke-width="1"/>
<line x1="223.8" y1="321.65" x2="330.5" y2="321.65" stroke="#f2f2f2" stroke-width="1"/>
<g clip-path="url(#c2)">
<path d="M235.03 285.35 L235.07 286.80 L235.12 288.97 L235.16 291.10 L235.21 293.18 L235.25 295.23 L235.30 297.23 L235.34 299.19 L235.38 301.11 L235.43 302.99 L235.47 304.82 L235.52 306.62 L235.56 308.37 L235.61 310.08 L235.65 311.74 L235.70 313.36 L235.74 314.95 L235.78 316.49 L235.83 317.98 L235.87 319.44 L235.92 320.85 L235.96 322.22 L236.01 323.55 L236.05 324.84 L236.09 326.08 L236.14 327.28 L236.18 328.44 L236.23 329.56 L236.27 330.64 L236.32 331.67 L236.36 332.66 L236.41 333.61 L236.45 334.52 L236.49 335.38 L236.54 336.20 L236.58 336.98 L236.63 337.72 L236.67 338.42 L236.72 339.07 L236.76 339.68 L236.80 340.25 L236.85 340.78 L236.89 341.26 L236.94 341.71 L236.98 342.11 L237.03 342.47 L237.07 342.78 L237.16 343.29 L237.25 343.62 L237.56 343.81 L237.87 343.81 L238.18 343.81 L238.49 343.81 L238.80 343.81 L239.11 343.81 L239.42 343.81 L239.73 343.81 L240.04 343.81 L240.36 343.81 L240.67 343.81 L240.98 343.81 L241.29 343.81 L241.60 343.81 L241.91 343.81 L242.22 343.81 L242.53 343.81 L242.84 343.81 L243.15 343.81 L243.46 343.81 L243.77 343.81 L244.08 343.81 L244.39 343.81 L244.71 343.81 L245.02 343.81 L245.33 343.81 L245.64 343.81 L245.95 343.81 L246.26 343.81 L246.52 343.81 M247.50 343.81 L247.81 343.81 L248.12 343.81 L248.43 343.81 L248.74 343.81 L249.05 343.81 L249.37 343.81 L249.68 343.81 L249.99 343.81 L250.30 343.81 L250.61 343.81 L250.92 343.81 L251.23 343.81 L251.54 343.81 L251.85 343.81 L252.16 343.81 L252.47 343.81 L252.78 343.81 L253.09 343.81 L253.40 343.81 L253.72 343.81 L254.03 343.81 L254.34 343.81 L254.65 343.81 L254.96 343.81 L255.27 343.81 L255.58 343.81 L255.89 343.81 L256.20 343.81 L256.51 343.81 L256.82 343.81 L256.91 343.81 M313.90 343.48 L313.99 343.06 L314.08 342.47 L314.12 342.11 L314.17 341.71 L314.21 341.26 L314.26 340.78 L314.30 340.25 L314.34 339.68 L314.39 339.07 L314.43 338.42 L314.48 337.72 L314.52 336.98 L314.57 336.20 L314.61 335.38 L314.65 334.52 L314.70 333.61 L314.74 332.66 L314.79 331.67 L314.83 330.64 L314.88 329.56 L314.92 328.44 L314.97 327.28 L315.01 326.08 L315.05 324.84 L315.10 323.55 L315.14 322.22 L315.19 320.85 L315.23 319.44 L315.28 317.98 L315.32 316.49 L315.36 314.95 L315.41 313.36 L315.45 311.74 L315.50 310.08 L315.54 308.37 L315.59 306.62 L315.63 304.82 L315.68 302.99 L315.72 301.11 L315.76 299.19 L315.81 297.23 L315.85 295.23 L315.90 293.18 L315.94 291.10 L315.99 288.97 L316.03 286.80 L316.08 285.35 L316.39 285.35 L316.70 285.35 L317.01 285.35 L317.32 285.35 L317.63 285.35 L317.94 285.35 L317.98 285.35" fill="none" stroke="#0072BD" stroke-width="3.0" stroke-linejoin="round"/>
<path d="M241.69 285.35 L241.86 286.33 L241.91 287.13 L241.95 287.91 L242.00 288.69 L242.04 289.46 L242.09 290.21 L242.13 290.96 L242.18 291.69 L242.22 292.41 L242.26 293.13 L242.31 293.83 L242.35 294.53 L242.40 295.21 L242.44 295.89 L242.49 296.55 L242.53 297.21 L242.57 297.86 L242.62 298.49 L242.66 299.12 L242.71 299.74 L242.75 300.36 L242.80 300.96 L242.84 301.55 L242.89 302.14 L242.93 302.72 L242.97 303.29 L243.02 303.85 L243.06 304.41 L243.11 304.96 L243.15 305.50 L243.20 306.03 L243.24 306.55 L243.28 307.07 L243.33 307.58 L243.37 308.08 L243.42 308.58 L243.46 309.07 L243.51 309.55 L243.55 310.03 L243.60 310.50 L243.64 310.96 L243.68 311.42 L243.73 311.87 L243.77 312.31 L243.82 312.75 L243.86 313.18 L243.91 313.60 L243.95 314.02 L243.99 314.44 L244.04 314.85 L244.08 315.25 L244.13 315.65 L244.17 316.04 L244.22 316.42 L244.26 316.80 L244.31 317.18 L244.35 317.55 L244.39 317.91 L244.44 318.27 L244.48 318.63 L244.53 318.98 L244.57 319.32 L244.62 319.66 L244.66 320.00 L244.71 320.33 L244.75 320.65 L244.79 320.98 L244.84 321.29 L244.88 321.61 L244.93 321.91 L244.97 322.22 L245.06 322.81 L245.15 323.39 L245.24 323.96 L245.33 324.50 L245.42 325.04 L245.50 325.56 L245.59 326.06 L245.68 326.55 L245.77 327.03 L245.86 327.49 L245.95 327.94 L246.04 328.38 L246.13 328.80 L246.21 329.22 L246.30 329.62 L246.39 330.01 L246.48 330.39 L246.57 330.76 L246.66 331.12 L246.75 331.47 L246.84 331.81 L246.92 332.14 L247.01 332.47 L247.10 332.78 L247.19 333.08 L247.32 333.52 L247.46 333.95 L247.59 334.35 L247.72 334.74 L247.86 335.11 L247.99 335.47 L248.12 335.81 L248.26 336.14 L248.39 336.46 L248.52 336.76 L248.70 337.14 L248.88 337.51 L249.05 337.85 L249.23 338.17 L249.41 338.48 L249.63 338.84 L249.85 339.18 L250.08 339.49 L250.34 339.84 L250.61 340.16 L250.92 340.50 L251.23 340.81 L251.54 341.09 L251.85 341.34 L252.16 341.57 L252.47 341.78 L252.78 341.97 L253.09 342.14 L253.40 342.30 L253.72 342.44 L254.03 342.57 L254.34 342.69 L254.65 342.79 L254.96 342.89 L255.27 342.97 L255.58 343.05 L255.89 343.12 L256.20 343.19 L256.51 343.25 L256.82 343.30 L257.13 343.35 L257.44 343.39 L257.75 343.43 L258.06 343.47 L258.38 343.50 L258.69 343.53 L259.00 343.55 L259.31 343.58 L259.62 343.60 L259.93 343.62 L260.24 343.64 L260.55 343.66 L260.86 343.67 L261.17 343.68 L261.48 343.70 L261.79 343.71 L262.10 343.72 L262.41 343.73 L262.73 343.73 L263.04 343.74 L263.35 343.75 L263.66 343.75 L263.97 343.76 L264.28 343.77 L264.59 343.77 L264.90 343.77 L265.21 343.78 L265.52 343.78 L265.83 343.78 L266.14 343.79 L266.45 343.79 L266.76 343.79 L267.07 343.79 L267.39 343.80 L267.70 343.80 L268.01 343.80 L268.32 343.80 L268.63 343.80 L268.94 343.80 L269.25 343.80 L269.56 343.81 L269.87 343.81 L270.18 343.81 L270.49 343.81 L270.80 343.81 L271.11 343.81 L271.42 343.81 L271.74 343.81 L272.05 343.81 L272.36 343.81 L272.67 343.81 L272.98 343.81 L273.29 343.81 L273.60 343.81 L273.91 343.81 L274.22 343.81 L274.53 343.81 L274.84 343.81 L275.15 343.81 L275.46 343.81 L275.77 343.81 L276.08 343.81 L276.40 343.81 L276.71 343.81 L277.02 343.81 L277.33 343.81 L277.64 343.81 L277.95 343.81 L278.26 343.81 L278.57 343.81 L278.88 343.81 L279.19 343.81 L279.50 343.81 L279.81 343.81 L280.12 343.81 L280.43 343.81 L280.75 343.81 L281.06 343.81 L281.37 343.81 L281.68 343.81 L281.99 343.81 L282.30 343.81 L282.61 343.81 L282.92 343.81 L283.23 343.81 L283.54 343.81 L283.85 343.81 L284.16 343.81 L284.47 343.81 L284.78 343.81 L285.09 343.81 L285.41 343.81 L285.72 343.81 L286.03 343.81 L286.34 343.81 L286.65 343.81 L286.96 343.81 L287.27 343.81 L287.58 343.81 L287.89 343.81 L288.20 343.81 L288.51 343.81 L288.82 343.81 L289.13 343.81 L289.44 343.81 L289.76 343.81 L290.07 343.81 L290.38 343.81 L290.69 343.81 L291.00 343.81 L291.31 343.81 L291.62 343.81 L291.93 343.81 L292.24 343.81 L292.55 343.81 L292.86 343.81 L293.17 343.81 L293.48 343.81 L293.79 343.81 L294.10 343.81 L294.42 343.81 L294.73 343.81 L295.04 343.81 L295.35 343.81 L295.66 343.81 L295.97 343.81 L296.28 343.81 L296.59 343.81 L296.90 343.81 L297.21 343.81 L297.52 343.81 L297.83 343.81 L298.14 343.81 L298.45 343.81 L298.77 343.81 L299.08 343.81 L299.39 343.81 L299.70 343.81 L300.01 343.81 L300.32 343.81 L300.63 343.81 L300.94 343.81 L301.25 343.81 L301.56 343.81 L301.87 343.81 L302.18 343.81 L302.49 343.81 L302.80 343.81 L303.11 343.81 L303.43 343.81 L303.74 343.81 L304.05 343.81 L304.36 343.81 L304.67 343.81 L304.98 343.81 L305.29 343.81 L305.60 343.81 L305.91 343.81 L306.22 343.81 L306.53 343.81 L306.84 343.81 L307.15 343.81 L307.46 343.81 L307.78 343.81 L308.09 343.81 L308.40 343.81 L308.71 343.81 L309.02 343.81 L309.33 343.81 L309.64 343.81 L309.95 343.81 L310.26 343.81 L310.57 343.81 L310.88 343.81 L311.19 343.81 L311.50 343.81 L311.81 343.81 L312.12 343.81 L312.44 343.81 L312.75 343.81 L313.06 343.81 L313.37 343.81 L313.68 343.81 L313.99 343.81 L314.30 343.81 L314.61 343.77 L314.92 343.53 L315.14 343.13 L315.28 342.78 L315.41 342.32 L315.50 341.95 L315.59 341.53 L315.68 341.05 L315.76 340.51 L315.85 339.91 L315.90 339.59 L315.94 339.25 L315.99 338.89 L316.03 338.51 L316.08 338.11 L316.12 337.70 L316.16 337.27 L316.21 336.82 L316.25 336.35 L316.30 335.86 L316.34 335.35 L316.39 334.82 L316.43 334.27 L316.47 333.70 L316.52 333.11 L316.56 332.50 L316.61 331.86 L316.65 331.20 L316.70 330.53 L316.74 329.82 L316.79 329.10 L316.83 328.35 L316.87 327.58 L316.92 326.79 L316.96 325.97 L317.01 325.13 L317.01 325.13 M317.05 324.26 L317.10 323.37 L317.14 322.46 L317.18 321.51 L317.23 320.55 L317.27 319.56 L317.32 318.54 L317.36 317.50 L317.36 317.50 M317.45 315.33 L317.50 314.21 L317.54 313.06 L317.58 311.88 L317.63 310.68 L317.67 309.45 L317.72 308.19 L317.76 306.90 L317.81 305.59 L317.81 305.59 M317.89 302.87 L317.94 301.47 L317.98 300.04 L318.03 298.58 L318.07 297.09 L318.12 295.58 L318.16 294.03 L318.21 292.45 L318.25 290.85 L318.29 289.21 L318.34 287.54 L318.38 285.85 L318.38 285.85" fill="none" stroke="#D95319" stroke-width="3.0" stroke-linejoin="round"/>
<path d="M222.02 285.35 L222.34 285.35 L222.65 285.35 L222.96 285.35 L223.27 285.35 L223.58 285.35 L223.89 285.35 L224.20 285.35 L224.51 285.35 L224.82 285.35 L225.13 285.35 L225.44 285.35 L225.75 285.35 L226.06 285.35 L226.37 285.35 L226.68 285.35 L227.00 285.35 L227.31 285.35 L227.62 285.35 L227.93 285.35 L228.24 285.35 L228.55 285.35 L228.86 285.35 L229.17 285.35 L229.48 285.35 L229.79 285.35 L230.10 285.35 L230.41 285.35 L230.72 285.35 L231.03 285.35 L231.35 285.35 L231.66 285.35 L231.97 285.35 L232.28 285.35 L232.59 285.35 L232.90 285.35 L233.21 285.35 L233.52 285.35 L233.83 285.35 L234.14 285.35 L234.45 285.35 L234.76 285.35 L235.07 285.35 L235.38 285.35 L235.70 285.35 L236.01 285.35 L236.32 285.35 L236.63 285.35 L236.94 285.35 L237.25 285.35 L237.56 285.35 L237.87 285.35 L238.18 285.35 L238.49 285.35 L238.80 285.35 L239.11 285.35 L239.42 285.35 L239.73 285.35 L240.04 285.35 L240.36 285.35 L240.67 285.35 L240.98 285.35 L241.29 286.17 L241.33 287.13 L241.38 288.07 L241.42 289.00 L241.46 289.92 L241.51 290.83 L241.55 291.72 L241.60 292.60 L241.64 293.47 L241.69 294.33 L241.73 295.17 L241.78 296.00 L241.82 296.82 L241.86 297.63 L241.91 298.43 L241.95 299.22 L242.00 300.00 L242.04 300.76 L242.09 301.52 L242.13 302.26 L242.18 303.00 L242.22 303.72 L242.26 304.43 L242.31 305.14 L242.35 305.83 L242.40 306.52 L242.44 307.19 L242.49 307.86 L242.53 308.51 L242.57 309.16 L242.62 309.80 L242.66 310.43 L242.71 311.05 L242.75 311.66 L242.80 312.26 L242.84 312.86 L242.89 313.45 L242.93 314.03 L242.97 314.60 L243.02 315.16 L243.06 315.71 L243.11 316.26 L243.15 316.80 L243.20 317.33 L243.24 317.86 L243.28 318.38 L243.33 318.89 L243.37 319.39 L243.42 319.89 L243.46 320.37 L243.51 320.86 L243.55 321.33 L243.60 321.80 L243.64 322.27 L243.68 322.72 L243.73 323.17 L243.77 323.62 L243.82 324.05 L243.86 324.48 L243.91 324.91 L243.95 325.33 L243.99 325.74 L244.04 326.15 L244.08 326.55 L244.13 326.95 L244.17 327.34 L244.22 327.73 L244.26 328.11 L244.31 328.48 L244.35 328.85 L244.39 329.22 L244.44 329.58 L244.48 329.93 L244.53 330.28 L244.57 330.63 L244.62 330.97 L244.66 331.30 L244.71 331.63 L244.75 331.96 L244.79 332.28 L244.84 332.60 L244.88 332.91 L244.93 333.22 L244.97 333.52 L245.06 334.12 L245.15 334.70 L245.24 335.26 L245.33 335.81 L245.42 336.34 L245.50 336.86 L245.59 337.36 L245.68 337.85 L245.77 338.33 L245.86 338.79 L245.95 339.24 L246.04 339.68 L246.13 340.11 L246.21 340.52 L246.30 340.92 L246.39 341.32 L246.48 341.70 L246.57 342.07 L246.66 342.43 L246.75 342.78 L246.84 343.12 L246.92 343.45 L247.01 343.77 L247.10 344.08 L247.19 344.39 L247.32 344.83 L247.46 345.25 L247.59 345.66 L247.72 346.05 L247.86 346.42 L247.99 346.78 L248.12 347.12 L248.26 347.45 L248.39 347.76 L248.52 348.07 L248.70 348.45 L248.88 348.81 L249.05 349.16 L249.23 349.48 L249.41 349.79 L249.63 350.15 L249.85 350.48 L250.08 350.80 L250.34 351.14 L250.61 351.46 L250.92 351.80 L251.23 352.11 L251.54 352.39 L251.85 352.65 L252.16 352.88 L252.47 353.09 L252.78 353.28 L253.09 353.45 L253.40 353.61 L253.72 353.75 L254.03 353.87 L254.34 353.99 L254.65 354.10 L254.96 354.19 L255.27 354.28 L255.58 354.36 L255.89 354.43 L256.20 354.49 L256.51 354.55 L256.82 354.60 L257.13 354.65 L257.44 354.70 L257.75 354.73 L258.06 354.77 L258.38 354.80 L258.69 354.83 L259.00 354.86 L259.31 354.88 L259.62 354.91 L259.93 354.93 L260.24 354.94 L260.55 354.96 L260.86 354.98 L261.17 354.99 L261.48 355.00 L261.79 355.01 L262.10 355.02 L262.41 355.03 L262.73 355.04 L263.04 355.05 L263.35 355.05 L263.66 355.06 L263.97 355.07 L264.28 355.07 L264.59 355.07 L264.90 355.08 L265.21 355.08 L265.52 355.09 L265.83 355.09 L266.14 355.09 L266.45 355.09 L266.76 355.10 L267.07 355.10 L267.39 355.10 L267.70 355.10 L268.01 355.10 L268.32 355.11 L268.63 355.11 L268.94 355.11 L269.25 355.11 L269.56 355.11 L269.87 355.11 L270.18 355.11 L270.49 355.11 L270.80 355.11 L271.11 355.11 L271.42 355.11 L271.74 355.11 L272.05 355.12 L272.36 355.12 L272.67 355.12 L272.98 355.12 L273.29 355.12 L273.60 355.12 L273.91 355.12 L274.22 355.12 L274.53 355.12 L274.84 355.12 L275.15 355.12 L275.46 355.12 L275.77 355.12 L276.08 355.12 L276.40 355.12 L276.71 355.12 L277.02 355.12 L277.33 355.12 L277.64 355.12 L277.95 355.12 L278.26 355.12 L278.57 355.12 L278.88 355.12 L279.19 355.12 L279.50 355.12 L279.81 355.12 L280.12 355.12 L280.43 355.12 L280.75 355.12 L281.06 355.12 L281.37 355.12 L281.68 355.12 L281.99 355.12 L282.30 355.12 L282.61 355.12 L282.92 355.12 L283.23 355.12 L283.54 355.12 L283.85 355.12 L284.16 355.12 L284.47 355.12 L284.78 355.12 L285.09 355.12 L285.41 355.12 L285.72 355.12 L286.03 355.12 L286.34 355.12 L286.65 355.12 L286.96 355.12 L287.27 355.12 L287.58 355.12 L287.89 355.12 L288.20 355.12 L288.51 355.12 L288.82 355.12 L289.13 355.12 L289.44 355.12 L289.76 355.12 L290.07 355.12 L290.38 355.12 L290.69 355.12 L291.00 355.12 L291.31 355.12 L291.62 355.12 L291.93 355.12 L292.24 355.12 L292.55 355.12 L292.86 355.12 L293.17 355.12 L293.48 355.12 L293.79 355.12 L294.10 355.12 L294.42 355.12 L294.73 355.12 L295.04 355.12 L295.35 355.12 L295.66 355.12 L295.97 355.12 L296.28 355.12 L296.59 355.12 L296.90 355.12 L297.21 355.12 L297.52 355.12 L297.83 355.12 L298.14 355.12 L298.45 355.12 L298.77 355.12 L299.08 355.12 L299.39 355.12 L299.70 355.12 L300.01 355.12 L300.32 355.12 L300.63 355.12 L300.94 355.12 L301.25 355.12 L301.56 355.12 L301.87 355.12 L302.18 355.12 L302.49 355.12 L302.80 355.12 L303.11 355.12 L303.43 355.12 L303.74 355.12 L304.05 355.12 L304.36 355.12 L304.67 355.12 L304.98 355.12 L305.29 355.12 L305.60 355.12 L305.91 355.12 L306.22 355.12 L306.53 355.12 L306.84 355.12 L307.15 355.12 L307.46 355.12 L307.78 355.12 L308.09 355.12 L308.40 355.12 L308.71 355.12 L309.02 355.12 L309.33 355.12 L309.64 355.12 L309.95 355.12 L310.26 355.12 L310.57 355.12 L310.88 355.12 L311.19 355.12 L311.50 355.12 L311.81 355.12 L312.12 355.12 L312.44 355.11 L312.75 355.11 L313.06 355.11 L313.37 355.11 L313.68 355.10 L313.99 355.09 L314.30 355.08 L314.61 355.02 L314.92 354.76 L315.10 354.44 L315.23 354.10 L315.36 353.66 L315.45 353.30 L315.54 352.90 L315.63 352.43 L315.72 351.90 L315.81 351.31 L315.85 350.99 L315.90 350.66 L315.94 350.30 L315.99 349.93 L316.03 349.54 L316.08 349.13 L316.12 348.70 L316.16 348.26 L316.21 347.79 L316.25 347.30 L316.30 346.80 L316.34 346.27 L316.39 345.72 L316.43 345.15 L316.47 344.56 L316.52 343.94 L316.56 343.31 L316.61 342.65 L316.65 341.96 L316.70 341.26 L316.74 340.53 L316.79 339.77 L316.83 338.99 L316.87 338.19 L316.92 337.36 L316.96 336.51 L317.01 335.63 L317.05 334.72 L317.10 333.79 L317.14 332.83 L317.18 331.85 L317.23 330.83 L317.27 329.79 L317.32 328.72 L317.36 327.62 L317.41 326.50 L317.45 325.34 L317.50 324.15 L317.54 322.94 L317.58 321.70 L317.63 320.42 L317.67 319.11 L317.72 317.78 L317.76 316.41 L317.81 315.01 L317.85 313.58 L317.89 312.11 L317.94 310.62 L317.98 309.09 L318.03 307.53 L318.07 305.93 L318.12 304.30 L318.16 302.64 L318.21 300.94 L318.25 299.21 L318.29 297.44 L318.34 295.64 L318.38 293.80 L318.43 291.93 L318.47 290.02 L318.52 288.08 L318.56 286.09 L318.60 285.35 L318.92 285.35 L319.23 285.35 L319.54 285.35 L319.85 285.35 L320.16 285.35 L320.47 285.35 L320.78 285.35 L321.09 285.35 L321.40 285.35 L321.71 285.35 L322.02 285.35 L322.33 285.35 L322.64 285.35 L322.95 285.35 L323.27 285.35 L323.58 285.35 L323.89 285.35 L324.20 285.35 L324.51 285.35 L324.82 285.35 L325.13 285.35 L325.44 285.35 L325.75 285.35 L326.06 285.35 L326.37 285.35 L326.68 285.35 L326.99 285.35 L327.30 285.35 L327.62 285.35 L327.93 285.35 L328.24 285.35 L328.55 285.35 L328.86 285.35 L329.17 285.35 L329.48 285.35 L329.79 285.35 L330.10 285.35 L330.41 285.35 L330.72 285.35 L331.03 285.35 L331.34 285.35 L331.65 285.35 L331.96 285.35 L332.23 285.35" fill="none" stroke="#EDB120" stroke-width="3.0" stroke-linejoin="round"/>
</g>
<rect x="223.8" y="318.6" width="106.69999999999999" height="53.19999999999999" fill="none" stroke="#1c1c1c" stroke-width="1.7"/>
<line x1="227.62" y1="371.8" x2="227.62" y2="369.7" stroke="#000" stroke-width="1.2"/>
<line x1="227.62" y1="318.6" x2="227.62" y2="320.70000000000005" stroke="#000" stroke-width="1.2"/>
<text x="227.62" y="383.8" font-family="'Liberation Serif', serif" font-size="11.7" fill="#262626" text-anchor="middle">5</text>
<line x1="272.00" y1="371.8" x2="272.00" y2="369.7" stroke="#000" stroke-width="1.2"/>
<line x1="272.00" y1="318.6" x2="272.00" y2="320.70000000000005" stroke="#000" stroke-width="1.2"/>
<text x="272.00" y="383.8" font-family="'Liberation Serif', serif" font-size="11.7" fill="#262626" text-anchor="middle">5.5</text>
<line x1="316.39" y1="371.8" x2="316.39" y2="369.7" stroke="#000" stroke-width="1.2"/>
<line x1="316.39" y1="318.6" x2="316.39" y2="320.70000000000005" stroke="#000" stroke-width="1.2"/>
<text x="316.39" y="383.8" font-family="'Liberation Serif', serif" font-size="11.7" fill="#262626" text-anchor="middle">6</text>
<line x1="223.8" y1="365.98" x2="225.9" y2="365.98" stroke="#000" stroke-width="1.2"/>
<line x1="330.5" y1="365.98" x2="328.4" y2="365.98" stroke="#000" stroke-width="1.2"/>
<text x="221.40" y="369.88" font-family="'Liberation Serif', serif" font-size="11.7" fill="#262626" text-anchor="end"><tspan font-size="13.45" dy="0.9">−</tspan><tspan dy="-0.9" dx="0.7">100.2</tspan></text>
<line x1="223.8" y1="343.81" x2="225.9" y2="343.81" stroke="#000" stroke-width="1.2"/>
<line x1="330.5" y1="343.81" x2="328.4" y2="343.81" stroke="#000" stroke-width="1.2"/>
<text x="221.40" y="347.71" font-family="'Liberation Serif', serif" font-size="11.7" fill="#262626" text-anchor="end"><tspan font-size="13.45" dy="0.9">−</tspan><tspan dy="-0.9" dx="0.7">100</tspan></text>
<line x1="223.8" y1="321.65" x2="225.9" y2="321.65" stroke="#000" stroke-width="1.2"/>
<line x1="330.5" y1="321.65" x2="328.4" y2="321.65" stroke="#000" stroke-width="1.2"/>
<text x="221.40" y="325.55" font-family="'Liberation Serif', serif" font-size="11.7" fill="#262626" text-anchor="end"><tspan font-size="13.45" dy="0.9">−</tspan><tspan dy="-0.9" dx="0.7">99.8</tspan></text>
<clipPath id="c3"><rect x="363.8" y="125.3" width="107.0" height="53.500000000000014"/></clipPath>
<rect x="363.8" y="125.3" width="107.0" height="53.500000000000014" fill="#e8e8e8"/>
<line x1="393.54" y1="125.3" x2="393.54" y2="178.8" stroke="#f2f2f2" stroke-width="1"/>
<line x1="432.17" y1="125.3" x2="432.17" y2="178.8" stroke="#f2f2f2" stroke-width="1"/>
<line x1="363.8" y1="176.14" x2="470.8" y2="176.14" stroke="#f2f2f2" stroke-width="1"/>
<line x1="363.8" y1="151.99" x2="470.8" y2="151.99" stroke="#f2f2f2" stroke-width="1"/>
<line x1="363.8" y1="127.84" x2="470.8" y2="127.84" stroke="#f2f2f2" stroke-width="1"/>
<g clip-path="url(#c3)">
<path d="M375.27 215.03 L375.31 214.12 L375.35 211.75 L375.39 209.43 L375.43 207.16 L375.47 204.93 L375.50 202.75 L375.54 200.61 L375.58 198.52 L375.62 196.47 L375.66 194.47 L375.70 192.52 L375.74 190.61 L375.77 188.75 L375.81 186.94 L375.85 185.17 L375.89 183.45 L375.93 181.77 L375.97 180.14 L376.01 178.55 L376.05 177.01 L376.08 175.52 L376.12 174.07 L376.16 172.67 L376.20 171.31 L376.24 170.00 L376.28 168.74 L376.32 167.52 L376.35 166.35 L376.39 165.22 L376.43 164.14 L376.47 163.11 L376.51 162.12 L376.55 161.18 L376.59 160.28 L376.62 159.43 L376.66 158.63 L376.70 157.87 L376.74 157.16 L376.78 156.49 L376.82 155.87 L376.86 155.30 L376.89 154.77 L376.93 154.29 L376.97 153.85 L377.01 153.46 L377.05 153.12 L377.13 152.56 L377.20 152.20 L377.51 151.99 L377.82 151.99 L378.13 151.99 L378.44 151.99 L378.75 151.99 L379.06 151.99 L379.37 151.99 L379.68 151.99 L379.99 151.99 L380.29 151.99 L380.60 151.99 L380.91 151.99 L381.22 151.99 L381.53 151.99 L381.84 151.99 L382.15 151.99 L382.46 151.99 L382.77 151.99 L383.08 151.99 L383.38 151.99 L383.69 151.99 L384.00 151.99 L384.31 151.99 L384.62 151.99 L384.93 151.99 L385.24 151.99 L385.24 151.99 M386.20 151.99 L386.51 151.99 L386.82 151.99 L387.13 151.99 L387.44 151.99 L387.75 151.99 L388.06 151.99 L388.37 151.99 L388.68 151.99 L388.99 151.99 L389.29 151.99 L389.60 151.99 L389.91 151.99 L390.22 151.99 L390.53 151.99 L390.84 151.99 L391.15 151.99 L391.46 151.99 L391.77 151.99 L392.08 151.99 L392.38 151.99 L392.69 151.99 L393.00 151.99 L393.31 151.99 L393.62 151.99 L393.93 151.99 L394.24 151.99 L394.55 151.99 L394.55 151.99" fill="none" stroke="#0072BD" stroke-width="3.0" stroke-linejoin="round"/>
<path d="M381.14 215.03 L381.22 214.63 L381.26 213.76 L381.30 212.90 L381.34 212.05 L381.38 211.22 L381.41 210.40 L381.45 209.59 L381.49 208.79 L381.53 208.00 L381.57 207.22 L381.61 206.45 L381.65 205.70 L381.68 204.95 L381.72 204.21 L381.76 203.49 L381.80 202.77 L381.84 202.07 L381.88 201.37 L381.92 200.69 L381.96 200.01 L381.99 199.34 L382.03 198.69 L382.07 198.04 L382.11 197.40 L382.15 196.77 L382.19 196.15 L382.23 195.53 L382.26 194.93 L382.30 194.33 L382.34 193.74 L382.38 193.16 L382.42 192.59 L382.46 192.03 L382.50 191.47 L382.53 190.92 L382.57 190.38 L382.61 189.85 L382.65 189.32 L382.69 188.80 L382.73 188.29 L382.77 187.79 L382.81 187.29 L382.84 186.80 L382.88 186.32 L382.92 185.84 L382.96 185.37 L383.00 184.91 L383.04 184.45 L383.08 184.00 L383.11 183.55 L383.15 183.12 L383.19 182.68 L383.23 182.26 L383.27 181.84 L383.31 181.42 L383.35 181.01 L383.38 180.61 L383.42 180.21 L383.46 179.82 L383.50 179.43 L383.54 179.05 L383.58 178.68 L383.62 178.31 L383.65 177.94 L383.69 177.58 L383.73 177.23 L383.77 176.88 L383.81 176.53 L383.85 176.19 L383.89 175.85 L383.93 175.52 L383.96 175.19 L384.00 174.87 L384.04 174.55 L384.08 174.24 L384.12 173.93 L384.16 173.63 L384.20 173.33 L384.27 172.74 L384.35 172.17 L384.43 171.61 L384.50 171.07 L384.58 170.54 L384.66 170.03 L384.74 169.53 L384.81 169.05 L384.89 168.58 L384.97 168.12 L385.05 167.68 L385.12 167.24 L385.20 166.82 L385.28 166.41 L385.35 166.01 L385.43 165.63 L385.51 165.25 L385.59 164.89 L385.66 164.53 L385.74 164.18 L385.82 163.85 L385.90 163.52 L385.97 163.20 L386.05 162.89 L386.13 162.59 L386.24 162.16 L386.36 161.74 L386.47 161.34 L386.59 160.95 L386.71 160.59 L386.82 160.23 L386.94 159.89 L387.05 159.57 L387.17 159.26 L387.32 158.86 L387.48 158.49 L387.63 158.13 L387.79 157.80 L387.94 157.48 L388.14 157.11 L388.33 156.77 L388.52 156.44 L388.72 156.14 L388.95 155.81 L389.18 155.50 L389.45 155.17 L389.76 154.84 L390.07 154.54 L390.38 154.27 L390.69 154.03 L390.99 153.81 L391.30 153.62 L391.61 153.44 L391.92 153.29 L392.23 153.15 L392.54 153.03 L392.85 152.92 L393.16 152.82 L393.47 152.73 L393.78 152.65 L394.08 152.58 L394.39 152.52 L394.70 152.46 L395.01 152.41 L395.32 152.37 L395.63 152.33 L395.94 152.29 L396.25 152.26 L396.56 152.23 L396.87 152.21 L397.17 152.18 L397.48 152.16 L397.79 152.14 L398.10 152.13 L398.41 152.11 L398.72 152.10 L399.03 152.09 L399.34 152.08 L399.65 152.07 L399.96 152.06 L400.26 152.05 L400.57 152.05 L400.88 152.04 L401.19 152.03 L401.50 152.03 L401.81 152.03 L402.12 152.02 L402.43 152.02 L402.74 152.02 L403.05 152.01 L403.36 152.01 L403.66 152.01 L403.97 152.01 L404.28 152.00 L404.59 152.00 L404.90 152.00 L405.21 152.00 L405.52 152.00 L405.83 152.00 L406.14 152.00 L406.45 152.00 L406.75 152.00 L407.06 152.00 L407.37 151.99 L407.68 151.99 L407.99 151.99 L408.30 151.99 L408.61 151.99 L408.92 151.99 L409.23 151.99 L409.54 151.99 L409.84 151.99 L410.15 151.99 L410.46 151.99 L410.77 151.99 L411.08 151.99 L411.39 151.99 L411.70 151.99 L412.01 151.99 L412.32 151.99 L412.63 151.99 L412.94 151.99 L413.24 151.99 L413.55 151.99 L413.86 151.99 L414.17 151.99 L414.48 151.99 L414.79 151.99 L415.10 151.99 L415.41 151.99 L415.72 151.99 L416.03 151.99 L416.33 151.99 L416.64 151.99 L416.95 151.99 L417.26 151.99 L417.57 151.99 L417.88 151.99 L418.19 151.99 L418.50 151.99 L418.81 151.99 L419.12 151.99 L419.42 151.99 L419.73 151.99 L420.04 151.99 L420.35 151.99 L420.66 151.99 L420.97 151.99 L421.28 151.99 L421.59 151.99 L421.90 151.99 L422.21 151.99 L422.51 151.99 L422.82 151.99 L423.13 151.99 L423.44 151.99 L423.75 151.99 L424.06 151.99 L424.37 151.99 L424.68 151.99 L424.99 151.99 L425.30 151.99 L425.61 151.99 L425.91 151.99 L426.22 151.99 L426.53 151.99 L426.84 151.99 L427.15 151.99 L427.46 151.99 L427.77 151.99 L428.08 151.99 L428.39 151.99 L428.70 151.99 L429.00 151.99 L429.31 151.99 L429.62 151.99 L429.93 151.99 L430.24 151.99 L430.55 151.99 L430.86 151.99 L431.17 151.99 L431.48 151.99 L431.79 151.99 L432.09 151.99 L432.40 151.99 L432.71 151.99 L433.02 151.99 L433.33 151.99 L433.64 151.99 L433.95 151.99 L434.26 151.99 L434.57 151.99 L434.88 151.99 L435.18 151.99 L435.49 151.99 L435.80 151.99 L436.11 151.99 L436.42 151.99 L436.73 151.99 L437.04 151.99 L437.35 151.99 L437.66 151.99 L437.97 151.99 L438.28 151.99 L438.58 151.99 L438.89 151.99 L439.20 151.99 L439.51 151.99 L439.82 151.99 L440.13 151.99 L440.44 151.99 L440.75 151.99 L441.06 151.99 L441.37 151.99 L441.67 151.99 L441.98 151.99 L442.29 151.99 L442.60 151.99 L442.91 151.99 L443.22 151.99 L443.53 151.99 L443.84 151.99 L444.15 151.99 L444.46 151.99 L444.76 151.99 L445.07 151.99 L445.38 151.99 L445.69 151.99 L446.00 151.99 L446.31 151.99 L446.62 151.99 L446.93 151.99 L447.24 151.99 L447.55 151.99 L447.85 151.99 L448.16 151.99 L448.47 151.99 L448.78 151.99 L449.09 151.99 L449.40 151.99 L449.71 151.99 L450.02 151.99 L450.33 151.99 L450.64 151.99 L450.95 151.99 L451.25 151.99 L451.56 151.99 L451.87 151.99 L452.18 151.99 L452.49 151.99 L452.80 151.99 L453.11 151.99 L453.42 151.99 L453.73 151.99 L454.04 151.99 L454.34 151.99 L454.65 151.99 L454.96 151.99 L455.27 151.99 L455.58 151.99 L455.89 151.99 L456.20 151.99 L456.51 151.99 L456.82 151.99 L457.13 151.99 L457.43 151.99 L457.74 151.99 L458.05 151.99 L458.36 151.99 L458.67 151.99 L458.98 151.99 L459.29 151.99 L459.60 151.99 L459.91 151.99 L460.22 151.99 L460.52 151.99 L460.83 151.99 L461.14 151.99 L461.45 151.99 L461.76 151.99 L462.07 151.99 L462.38 151.99 L462.69 151.99 L463.00 151.99 L463.31 151.99 L463.62 151.99 L463.92 151.99 L464.23 151.99 L464.54 151.99 L464.85 151.99 L465.16 151.99 L465.47 151.99 L465.78 151.99 L466.09 151.99 L466.40 151.99 L466.71 151.99 L467.01 151.99 L467.32 151.99 L467.63 151.99 L467.94 151.99 L468.25 151.99 L468.56 151.99 L468.87 151.99 L469.18 151.99 L469.49 151.99 L469.80 151.99 L470.10 151.99 L470.41 151.99 L470.72 151.99 L470.80 151.99" fill="none" stroke="#D95319" stroke-width="3.0" stroke-linejoin="round"/>
<path d="M362.29 215.03 L362.60 215.03 L362.91 215.03 L363.22 215.03 L363.53 215.03 L363.84 215.03 L364.15 215.03 L364.46 215.03 L364.77 215.03 L365.07 215.03 L365.38 215.03 L365.69 215.03 L366.00 215.03 L366.31 215.03 L366.62 215.03 L366.93 215.03 L367.24 215.03 L367.55 215.03 L367.86 215.03 L368.16 215.03 L368.47 215.03 L368.78 215.03 L369.09 215.03 L369.40 215.03 L369.71 215.03 L370.02 215.03 L370.33 215.03 L370.64 215.03 L370.95 215.03 L371.26 215.03 L371.56 215.03 L371.87 215.03 L372.18 215.03 L372.49 215.03 L372.80 215.03 L373.11 215.03 L373.42 215.03 L373.73 215.03 L374.04 215.03 L374.35 215.03 L374.65 215.03 L374.96 215.03 L375.27 215.03 L375.58 215.03 L375.89 215.03 L376.20 215.03 L376.51 215.03 L376.82 215.03 L377.13 215.03 L377.44 215.03 L377.74 215.03 L378.05 215.03 L378.36 215.03 L378.67 215.03 L378.98 215.03 L379.29 215.03 L379.60 215.03 L379.91 215.03 L380.22 215.03 L380.53 215.03 L380.76 213.76 L380.80 212.73 L380.84 211.71 L380.87 210.71 L380.91 209.73 L380.95 208.75 L380.99 207.79 L381.03 206.85 L381.07 205.91 L381.11 204.99 L381.14 204.09 L381.18 203.19 L381.22 202.31 L381.26 201.44 L381.30 200.58 L381.34 199.74 L381.38 198.90 L381.41 198.08 L381.45 197.27 L381.49 196.47 L381.53 195.68 L381.57 194.90 L381.61 194.13 L381.65 193.38 L381.68 192.63 L381.72 191.90 L381.76 191.17 L381.80 190.46 L381.84 189.75 L381.88 189.05 L381.92 188.37 L381.96 187.69 L381.99 187.03 L382.03 186.37 L382.07 185.72 L382.11 185.08 L382.15 184.45 L382.19 183.83 L382.23 183.21 L382.26 182.61 L382.30 182.01 L382.34 181.42 L382.38 180.84 L382.42 180.27 L382.46 179.71 L382.50 179.15 L382.53 178.60 L382.57 178.06 L382.61 177.53 L382.65 177.00 L382.69 176.49 L382.73 175.97 L382.77 175.47 L382.81 174.97 L382.84 174.48 L382.88 174.00 L382.92 173.52 L382.96 173.05 L383.00 172.59 L383.04 172.13 L383.08 171.68 L383.11 171.24 L383.15 170.80 L383.19 170.37 L383.23 169.94 L383.27 169.52 L383.31 169.10 L383.35 168.70 L383.38 168.29 L383.42 167.90 L383.46 167.50 L383.50 167.12 L383.54 166.74 L383.58 166.36 L383.62 165.99 L383.65 165.62 L383.69 165.26 L383.73 164.91 L383.77 164.56 L383.81 164.21 L383.85 163.87 L383.89 163.53 L383.93 163.20 L383.96 162.88 L384.00 162.55 L384.04 162.24 L384.08 161.92 L384.12 161.61 L384.16 161.31 L384.20 161.01 L384.27 160.42 L384.35 159.85 L384.43 159.29 L384.50 158.75 L384.58 158.22 L384.66 157.71 L384.74 157.21 L384.81 156.73 L384.89 156.26 L384.97 155.80 L385.05 155.36 L385.12 154.92 L385.20 154.50 L385.28 154.09 L385.35 153.70 L385.43 153.31 L385.51 152.93 L385.59 152.57 L385.66 152.21 L385.74 151.87 L385.82 151.53 L385.90 151.20 L385.97 150.88 L386.05 150.57 L386.13 150.27 L386.24 149.84 L386.36 149.42 L386.47 149.02 L386.59 148.64 L386.71 148.27 L386.82 147.91 L386.94 147.58 L387.05 147.25 L387.17 146.94 L387.32 146.54 L387.48 146.17 L387.63 145.82 L387.79 145.48 L387.94 145.17 L388.14 144.79 L388.33 144.45 L388.52 144.13 L388.72 143.83 L388.95 143.49 L389.18 143.18 L389.45 142.86 L389.76 142.52 L390.07 142.22 L390.38 141.95 L390.69 141.71 L390.99 141.49 L391.30 141.30 L391.61 141.13 L391.92 140.97 L392.23 140.83 L392.54 140.71 L392.85 140.60 L393.16 140.50 L393.47 140.41 L393.78 140.34 L394.08 140.27 L394.39 140.20 L394.70 140.15 L395.01 140.10 L395.32 140.05 L395.63 140.01 L395.94 139.98 L396.25 139.94 L396.56 139.91 L396.87 139.89 L397.17 139.87 L397.48 139.84 L397.79 139.83 L398.10 139.81 L398.41 139.80 L398.72 139.78 L399.03 139.77 L399.34 139.76 L399.65 139.75 L399.96 139.74 L400.26 139.73 L400.57 139.73 L400.88 139.72 L401.19 139.72 L401.50 139.71 L401.81 139.71 L402.12 139.70 L402.43 139.70 L402.74 139.70 L403.05 139.69 L403.36 139.69 L403.66 139.69 L403.97 139.69 L404.28 139.69 L404.59 139.68 L404.90 139.68 L405.21 139.68 L405.52 139.68 L405.83 139.68 L406.14 139.68 L406.45 139.68 L406.75 139.68 L407.06 139.68 L407.37 139.68 L407.68 139.68 L407.99 139.68 L408.30 139.67 L408.61 139.67 L408.92 139.67 L409.23 139.67 L409.54 139.67 L409.84 139.67 L410.15 139.67 L410.46 139.67 L410.77 139.67 L411.08 139.67 L411.39 139.67 L411.70 139.67 L412.01 139.67 L412.32 139.67 L412.63 139.67 L412.94 139.67 L413.24 139.67 L413.55 139.67 L413.86 139.67 L414.17 139.67 L414.48 139.67 L414.79 139.67 L415.10 139.67 L415.41 139.67 L415.72 139.67 L416.03 139.67 L416.33 139.67 L416.64 139.67 L416.95 139.67 L417.26 139.67 L417.57 139.67 L417.88 139.67 L418.19 139.67 L418.50 139.67 L418.81 139.67 L419.12 139.67 L419.42 139.67 L419.73 139.67 L420.04 139.67 L420.35 139.67 L420.66 139.67 L420.97 139.67 L421.28 139.67 L421.59 139.67 L421.90 139.67 L422.21 139.67 L422.51 139.67 L422.82 139.67 L423.13 139.67 L423.44 139.67 L423.75 139.67 L424.06 139.67 L424.37 139.67 L424.68 139.67 L424.99 139.67 L425.30 139.67 L425.61 139.67 L425.91 139.67 L426.22 139.67 L426.53 139.67 L426.84 139.67 L427.15 139.67 L427.46 139.67 L427.77 139.67 L428.08 139.67 L428.39 139.67 L428.70 139.67 L429.00 139.67 L429.31 139.67 L429.62 139.67 L429.93 139.67 L430.24 139.67 L430.55 139.67 L430.86 139.67 L431.17 139.67 L431.48 139.67 L431.79 139.67 L432.09 139.67 L432.40 139.67 L432.71 139.67 L433.02 139.67 L433.33 139.67 L433.64 139.67 L433.95 139.67 L434.26 139.67 L434.57 139.67 L434.88 139.67 L435.18 139.67 L435.49 139.67 L435.80 139.67 L436.11 139.67 L436.42 139.67 L436.73 139.67 L437.04 139.67 L437.35 139.67 L437.66 139.67 L437.97 139.67 L438.28 139.67 L438.58 139.67 L438.89 139.67 L439.20 139.67 L439.51 139.67 L439.82 139.67 L440.13 139.67 L440.44 139.67 L440.75 139.67 L441.06 139.67 L441.37 139.67 L441.67 139.67 L441.98 139.67 L442.29 139.67 L442.60 139.67 L442.91 139.67 L443.22 139.67 L443.53 139.67 L443.84 139.67 L444.15 139.67 L444.46 139.67 L444.76 139.67 L445.07 139.67 L445.38 139.67 L445.69 139.67 L446.00 139.67 L446.31 139.67 L446.62 139.67 L446.93 139.67 L447.24 139.67 L447.55 139.67 L447.85 139.67 L448.16 139.67 L448.47 139.67 L448.78 139.67 L449.09 139.67 L449.40 139.67 L449.71 139.67 L450.02 139.67 L450.33 139.67 L450.64 139.67 L450.95 139.67 L451.25 139.67 L451.56 139.67 L451.87 139.67 L452.18 139.67 L452.49 139.67 L452.80 139.67 L453.11 139.67 L453.42 139.67 L453.73 139.67 L454.04 139.67 L454.34 139.67 L454.65 139.67 L454.96 139.67 L455.27 139.67 L455.58 139.67 L455.89 139.67 L456.20 139.67 L456.51 139.67 L456.82 139.67 L457.13 139.67 L457.43 139.67 L457.74 139.67 L458.05 139.67 L458.36 139.67 L458.67 139.67 L458.98 139.67 L459.29 139.67 L459.60 139.67 L459.91 139.67 L460.22 139.67 L460.52 139.67 L460.83 139.67 L461.14 139.67 L461.45 139.67 L461.76 139.67 L462.07 139.67 L462.38 139.67 L462.69 139.67 L463.00 139.67 L463.31 139.67 L463.62 139.67 L463.92 139.67 L464.23 139.67 L464.54 139.67 L464.85 139.67 L465.16 139.67 L465.47 139.67 L465.78 139.67 L466.09 139.67 L466.40 139.67 L466.71 139.67 L467.01 139.67 L467.32 139.67 L467.63 139.67 L467.94 139.67 L468.25 139.67 L468.56 139.67 L468.87 139.67 L469.18 139.67 L469.49 139.67 L469.80 139.67 L470.10 139.67 L470.41 139.67 L470.72 139.67 L470.80 139.67" fill="none" stroke="#EDB120" stroke-width="3.0" stroke-linejoin="round"/>
</g>
<rect x="363.8" y="125.3" width="107.0" height="53.500000000000014" fill="none" stroke="#1c1c1c" stroke-width="1.7"/>
<line x1="393.54" y1="178.8" x2="393.54" y2="176.70000000000002" stroke="#000" stroke-width="1.2"/>
<line x1="393.54" y1="125.3" x2="393.54" y2="127.39999999999999" stroke="#000" stroke-width="1.2"/>
<text x="393.54" y="190.8" font-family="'Liberation Serif', serif" font-size="11.7" fill="#262626" text-anchor="middle">7</text>
<line x1="432.17" y1="178.8" x2="432.17" y2="176.70000000000002" stroke="#000" stroke-width="1.2"/>
<line x1="432.17" y1="125.3" x2="432.17" y2="127.39999999999999" stroke="#000" stroke-width="1.2"/>
<text x="432.17" y="190.8" font-family="'Liberation Serif', serif" font-size="11.7" fill="#262626" text-anchor="middle">7.5</text>
<text x="470.80" y="190.8" font-family="'Liberation Serif', serif" font-size="11.7" fill="#262626" text-anchor="middle">8</text>
<line x1="363.8" y1="176.14" x2="365.90000000000003" y2="176.14" stroke="#000" stroke-width="1.2"/>
<line x1="470.8" y1="176.14" x2="468.7" y2="176.14" stroke="#000" stroke-width="1.2"/>
<text x="361.40" y="180.04" font-family="'Liberation Serif', serif" font-size="11.7" fill="#262626" text-anchor="end"><tspan font-size="13.45" dy="0.9">−</tspan><tspan dy="-0.9" dx="0.7">0.2</tspan></text>
<line x1="363.8" y1="151.99" x2="365.90000000000003" y2="151.99" stroke="#000" stroke-width="1.2"/>
<line x1="470.8" y1="151.99" x2="468.7" y2="151.99" stroke="#000" stroke-width="1.2"/>
<text x="361.40" y="155.89" font-family="'Liberation Serif', serif" font-size="11.7" fill="#262626" text-anchor="end">0</text>
<line x1="363.8" y1="127.84" x2="365.90000000000003" y2="127.84" stroke="#000" stroke-width="1.2"/>
<line x1="470.8" y1="127.84" x2="468.7" y2="127.84" stroke="#000" stroke-width="1.2"/>
<text x="361.40" y="131.74" font-family="'Liberation Serif', serif" font-size="11.7" fill="#262626" text-anchor="end">0.2</text>
<rect x="383.5" y="40.5" width="138.0" height="55.0" fill="#fff" stroke="#4a4a4a" stroke-width="1"/>
<line x1="388.5" y1="51.1" x2="430.5" y2="51.1" stroke="#0072BD" stroke-width="3.0"/>
<text x="435" y="55.7" font-family="'Liberation Sans', sans-serif" font-size="12.7" fill="#000">Reference</text>
<line x1="388.5" y1="69.1" x2="430.5" y2="69.1" stroke="#D95319" stroke-width="3.0"/>
<text x="435" y="73.69999999999999" font-family="'Liberation Sans', sans-serif" font-size="12.7" fill="#000">Motor Position</text>
<line x1="388.5" y1="87.1" x2="430.5" y2="87.1" stroke="#EDB120" stroke-width="3.0"/>
<text x="435" y="91.69999999999999" font-family="'Liberation Sans', sans-serif" font-size="12.7" fill="#000">Load Position</text>
</svg>
</body></html>
